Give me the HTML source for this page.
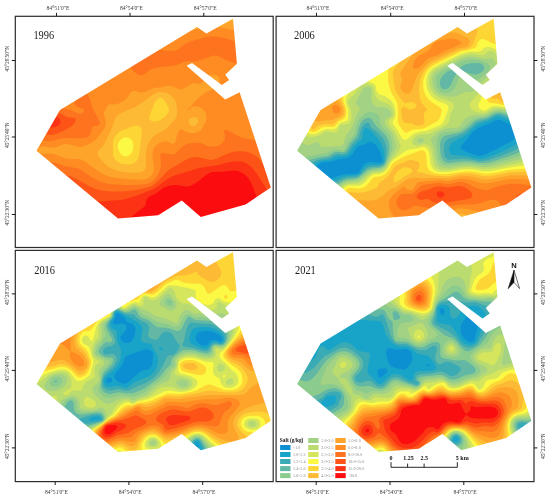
<!DOCTYPE html>
<html><head><meta charset="utf-8"><title>Soil salt maps</title>
<style>html,body{margin:0;padding:0;background:#fff}svg{display:block}text{font-family:"Liberation Serif",serif}</style></head>
<body><svg width="550" height="498" viewBox="0 0 550 498">
<rect width="550" height="498" fill="#fff"/>
<g>
<rect x="16" y="17" width="257" height="206" fill="#0c90d2"/>
<path fill="#18a4c8" fill-rule="evenodd" d="M16,17L273,17L273,223L16,223Z"/>
<path fill="#3aaab4" fill-rule="evenodd" d="M16,17L273,17L273,223L16,223Z"/>
<path fill="#62b8a4" fill-rule="evenodd" d="M16,17L273,17L273,223L16,223Z"/>
<path fill="#8ccb8e" fill-rule="evenodd" d="M16,17L273,17L273,223L16,223Z"/>
<path fill="#a4d284" fill-rule="evenodd" d="M16,17L273,17L273,223L16,223Z"/>
<path fill="#badb70" fill-rule="evenodd" d="M16,17L273,17L273,223L16,223Z"/>
<path fill="#d6e65c" fill-rule="evenodd" d="M16,17L273,17L273,223L16,223Z"/>
<path fill="#fcf945" fill-rule="evenodd" d="M16,17L273,17L273,223L16,223Z"/>
<path fill="#fdd535" fill-rule="evenodd" d="M16,17L273,17L273,223L16,223ZM126,137.2L125,137.3L123,138L120.4,140L119,141.8L118.4,143L117.6,146L117.9,148L119,151L120.8,154L123,155.8L125,156.5L126,156.6L128,156.1L129,155.6L131,153.7L132,152L132.7,150L133.3,146L133,143L131.7,140L130.8,139L129,137.8Z"/>
<path fill="#fdba34" fill-rule="evenodd" d="M16,17L273,17L273,223L16,223ZM140,126.6L138,125.8L136,125.7L134,125.9L131,126.8L126.2,129L122,130.3L120,131.3L117,133.8L115,136.5L113.7,139L112.9,142L112.8,144L113.2,148L113,154L113.6,157L114.7,159L116,160.6L118,162.2L120,163.2L123,164L126,164.3L130,164.3L132,163.9L134,163.2L135.7,162L137,160.5L138.2,158L139,155L141.5,137L141.7,133L141.6,130L141.1,128ZM162,98L161,97.6L160,97.5L159,97.9L158,98.6L155.8,101L154.1,104L150.2,114L149.4,117L149.4,119L149.9,120L151,120.8L153,121.4L155,121.4L158,121L160,120.3L162.2,119L165,116.7L167,114.4L168.4,112L169,110L168.8,108L164.9,101L163.3,99Z"/>
<path fill="#fea42a" fill-rule="evenodd" d="M16,37.1L39,34.8L47,33.5L55,31.9L68,28.4L93.4,20L103.9,17L153.6,17L166,19.8L170,20.4L174,20.6L182,20L201.3,17L214.8,17L221,18L232,20.5L245,22.2L253,23.8L258,25.2L263,27L268,29.1L273,31.7L273,223L16,223ZM171.4,96L168,93.6L166,92.7L164,92.2L160,92L158,92.3L156,92.9L152.4,95L144,101.5L137,106L131,109.1L121,113.1L119,114.2L117,115.9L116,117.1L115,118.9L112.4,127L104.2,144L102,147.3L98.4,151L97.7,152L97.4,153L97.8,155L99,157L101.3,160L104,163L107.5,166L111,168.2L115,169.9L120,171.3L128,172.4L136,172.8L141,172.2L143,171.4L144,170.7L145.3,169L146,166L145.9,155L146.6,149L147.7,145L149.7,141L152,138L154.2,136L157,134.1L164,130.2L168,127.1L174.4,120L175.7,118L176.5,116L177.1,113L177.1,110L176.9,107L176,103L175.4,101L174.2,99ZM193,117.2L191,118L189.6,119L188.9,120L188.6,121L188.9,123L190,124.7L191,125.5L193,126.1L195,125.7L196,125.1L197.6,123L198.3,121L197.9,119L197,117.8L195,117Z"/>
<path fill="#fe8c23" fill-rule="evenodd" d="M273,53.8L273,223L16,223L16,66.8L23,66.6L30,66.8L48,68.7L53,68.9L58,68.6L64,67.2L82,60.6L86,58.9L90,56.8L95,53.1L103.4,45L108,41L112.1,38L117,35.1L121.7,33L126,31.6L130,30.7L135,30.2L141,30.2L148,31.2L155,33.1L166,37L169,37.7L171,37.8L173,37.5L175,36.9L184,33.5L199,28.5L203,27.5L207,26.8L212,26.5L216,26.7L221,27.4L233.2,30L241,32L247,34L252,36.2L258.5,40L263.8,44L269,49ZM219.3,78L218,76.2L216,74.9L214,74.4L213,74.4L211,74.8L209,75.8L207,77.3L205,79.3L202,83L201,83.7L199,83.9L193,83.1L192,83.5L188.4,86L182.5,89L181,89.4L178.8,89L173,86.4L169,85.8L166,86.1L160,87.5L156,87.7L154,88.1L151,89.2L146,91.6L143,92.3L140,92.4L138,91.9L135,90.7L133,90.9L131.3,92L130.3,93L126.2,99L124,100.8L122.2,102L120,103.1L117,104.1L114,104.5L110,104.2L109,104.3L108,105.1L107,106.4L105,110.2L104,113L104,115.1L105.5,120L105.8,122L105.7,125L105.1,127L103,130.7L97.1,138L95,140.2L92,142.5L86,145.6L83,146.6L81,146.9L78,146.7L69,144.3L66,144L64,144.2L62,144.7L56,147.2L54,147.7L51,147.7L45,146.5L42,146.7L40.7,147L38.8,148L37.9,149L37.6,150L37.8,151L38.5,152L40,153L42,153.7L45,154L52,153.6L54,153.9L56,154.5L62,157.2L66,158.4L70,158.9L78,158.9L81,159.5L83,160.3L86,162.2L96.4,170L101,173L105,175.1L110,176.7L119,178.3L132,179.4L141,179.6L144,179.4L147,178.7L149,177.7L151,176L152.4,174L153.3,172L153.7,170L153.9,167L152.4,157L152.4,153L153,150.6L154,148.3L155,146.7L156.6,145L158,143.9L160,142.7L162,141.9L165,141.3L166,141.3L168,141.7L172,143.4L173,143.6L174,143.5L175,142.5L175.6,141L178,132.2L179,130.4L180,129.5L181,129.1L182,129.5L185,131.3L188,132.6L190,133.1L193,133.3L196,132.8L198.2,132L200,130.9L201.8,129L205.2,123L206.4,119L206.5,117L206.3,115L205.6,113L204.4,111L203,109.4L201,107.9L199,106.9L197,106.5L194,106.6L192,107.1L191,107.6L189.7,109L188,110.2L187.7,110L187.8,109L188.8,108L191,106.4L194.3,102L200.9,96L206,92L210,90.5L212.8,89L216.5,86L218.2,84L219.2,82L219.7,80Z"/>
<path fill="#fe731e" fill-rule="evenodd" d="M247,56L246.8,59L246,61L245.2,62L244,62.8L242,63.4L240,63.6L237,63.4L231,62L226,60.1L218.2,56L217,55.6L215,55.4L212,56L201,60L197,61.1L193,61.5L187,61.3L185,61.5L183,62.2L178,64.4L175,65.3L171,65.9L160,67.1L153,68.4L150,69.7L146,72.9L144,74.3L143,74.7L141,75L139,74.7L137,74L135,72.6L133,70.5L131.4,68L130.1,65L129.4,62L129.2,60L129.3,58L129.7,56L130.5,54L132,51.7L133.6,50L135,48.9L137,47.7L140,46.6L144,46L148,46.2L152,47L160,49.6L164,50.5L170,51.1L174,50.8L176,50.3L178,49.4L185,44.1L189,42L204,37.4L208,36.6L211,36.4L217,36.7L224.2,38L231,39.9L236,42L240.5,45L243.4,48L244.8,50L245.9,52L246.6,54ZM16,94.5L22,92.7L28,91.8L34,92L40,93.2L45,95L50,97.8L54,100.8L59.9,106L62,107.5L65,108.7L71,110.1L76,112.5L80,113.5L82,113.2L83,112.6L83.7,112L84.1,111L83.9,110L83,109L81,108.2L78,107.3L75.8,106L75.1,105L74.5,103L74.5,100L75.1,98L76,96.3L78,94.1L79,93.5L81,92.8L83,92.8L84,93L86,93.9L87,94.6L88.3,96L89.6,98L90.7,101L92.4,108L99,120.4L99.6,122L99.5,124L99,125L98,125.6L97,125.9L94,125.8L93,126.3L92,128.5L90.7,133L89.7,135L88,136.7L85,137.9L80,138.2L65,138L61,138.6L53,140.7L49,141.3L47,141.2L36,139.1L29,138.4L22,138.5L18.4,139L16,139.7ZM273,150.7L273,223L16,223L16,155.7L18,157.3L21,159.2L24,160.5L28,161.7L31,162.1L35,162.3L44,161.3L48,161.5L55,162.8L65,165.9L77,168.3L79,169L82,170.6L91,176.7L96,179.6L100,181.4L104.9,183L110,184L116,184.6L123,185L131,185.1L140,184.7L147,183.7L149.6,183L151,182.3L154,179.7L156.2,177L158.2,174L159.6,171L160.5,168L160.9,166L161.1,163L160.1,155L160.4,154L161,153.3L162,152.9L163,152.8L170,154.3L172,154.4L174,154.1L175,153.7L177,152.3L181,147.7L183,146.1L187,144.1L192,143.1L197,142.8L200.3,143L202,143.5L207,145.8L210,146.5L215,146.6L218,145.9L220,144.8L222,143.2L223.1,142L224.3,140L225,138L225.1,136L224.7,134L223.8,132L223.6,131L224,130.4L225,129.9L227,130L229,130.8L236,135L241,137.2L246,138.5L256,140.4L259,141.2L262,142.4L265,144L267.9,146Z"/>
<path fill="#fd5316" fill-rule="evenodd" d="M29.5,118L29.8,116L30.6,114L32,112L34,110.2L36.1,109L39,108L41,107.7L44,107.5L49,108.2L54,109.8L58,111.7L64,115.6L67,117L70,117.8L75,118.1L75.6,119L75.7,120L75,122.2L74,123.8L72.9,125L71,126.4L63.3,131L60,132.6L56,134.1L52,135L49,135.1L46,134.6L42,133.1L38.3,131L35.6,129L33.4,127L31.2,124L29.9,121ZM273,177.4L273,223L16,223L16,175L22,175.1L28,174.7L46,172L50,171.9L54,172.3L66,174.9L71,176.5L76.5,179L90,186.6L95,188.7L99,189.9L105,191L112,191.4L121,191.5L128,191L136,189.9L143,188.6L149,187.1L152,185.8L154.7,184L157,182L167,171.4L170,168.9L177.2,165L186,159.7L190,157.9L193,157.2L197,157.1L201,157.7L209,159.7L212,160L215.6,159L226,154.3L231,152.4L235,151.5L240,151.2L245,151.6L249,152.6L253,154.2L256,156.1L258,157.8L260,160.1L266.9,170Z"/>
<path fill="#fc3214" fill-rule="evenodd" d="M47,121L48.3,119L50,117.8L53,116.7L56,116.4L58,117.2L58.9,118L60.2,120L60.6,122L60.4,123L59.9,124L58,125.6L55,126.9L52,127.4L50,127L48.6,126L47.7,125L46.9,123ZM273,198.4L273,223L16,223L16,191.3L25,190.1L44,186.5L50,185.9L55,186L61,187L67,188.8L72,191L86,197.9L90,199.5L94,200.6L98,201.2L103,201.4L113,200.4L121,200L127,198.7L137,195.5L152,189.8L156,187.5L162,182.9L167,179.4L171,177.1L175,175.2L185,172.5L195,169.2L199.3,168L204.7,167L216,165.6L229,162.3L234,161.4L239,161.3L243,162.1L247,163.8L251,166.7L253.2,169L256.3,173L259.6,178L266,188.6Z"/>
<path fill="#fb0c0e" fill-rule="evenodd" d="M270.2,223L121.5,223L125,221.5L128,219.7L137,212.2L144,207.1L145,206L145.5,205L146,202L146.6,200L147.8,198L149,196.7L150,196L154,194.6L156,193.5L163,188L168,186.1L171,185.4L174,185.1L178,185.2L186,186.4L189,186.2L192,185.2L195,183.5L199,180.8L206.3,175L209.6,173L212,172L222,171.7L234,170.6L238,171L242,172.7L246,175.8L248,177.9L249.6,180L251.7,184L256,195.6L260.1,205L265,214.4ZM16,210.2L35,207.1L42,206.2L49,205.8L56,206.3L61,207.3L66,208.7L89,217.7L99,220.9L106.7,223L16,223Z"/>
<path fill="#fff" fill-rule="evenodd" d="M15.4,16.4H273.6V223.6H15.4ZM233,18.8L236.9,63.7L225.2,74.7L229.2,80L221.9,85.1L192,63L186.6,65.7L225.2,99.5L239.6,92.2L270.8,187.4L245.6,204.5L200.8,216.9L181.8,200.5L158.2,215.3L118,218.5L36.5,150.7L60,110L197,27L206.4,33.6Z"/>
</g>
<g>
<rect x="276.6" y="17" width="257" height="206" fill="#0c90d2"/>
<path fill="#18a4c8" fill-rule="evenodd" d="M276.6,17L533.6,17L533.6,223L276.6,223ZM381.6,155.2L378.6,149.1L375.6,145L372.6,142.5L370.6,141.7L369.6,141.8L363.6,144.8L361.6,145.5L359.6,145.6L358.4,146L356.7,148L352.7,154L350.6,155.9L348.6,157.1L345.6,158.1L338.6,158.9L333.6,160.9L330.6,161.7L322.6,162.2L320.6,163L319.1,164L316.8,166L314.5,169L313.5,171L312.8,173L312.9,176L313.7,178L314.6,179L316.1,180L318.6,180.8L322.6,181L325.6,180.6L328.6,179.8L339.6,175.6L343.6,174.4L347.6,173.9L354.6,173.9L357.6,173.3L358.6,172.8L359.2,172L361.6,167.7L363.6,165L364.6,164L366.6,162.8L368.6,162.2L370.6,162.1L378.6,162.8L380.6,162.4L381.4,162L382,161L382.3,159ZM516.6,131L515.8,129L514.6,127.5L512.9,126L510.6,124.6L503.6,121.2L500.6,120L498.6,119.7L496.6,120L489.6,123.4L480.3,127L477.6,128.5L474,131L472.6,132.3L466.6,139.6L461.6,145L461,146L460.8,147L460.9,148L461.6,149L462.8,150L464.5,151L469.3,153L475.5,155L478.6,155.7L480.6,155.8L482.6,155.3L486.1,154L496.9,149L502.6,145.7L509.8,142L512.6,140.2L514.9,138L516.2,136L516.8,134Z"/>
<path fill="#3aaab4" fill-rule="evenodd" d="M276.6,17L533.6,17L533.6,223L276.6,223ZM381.4,144L378.6,139.6L372,132L369.9,130L367.6,128.2L366.6,127.9L365.6,128L364.3,129L363.2,131L362.8,133L362.3,138L362,139L361.1,140L356.6,143.3L354.9,145L352.6,148.1L350.2,152L348.5,154L347.1,155L345.6,155.7L343.6,156.1L337.6,156.3L335.6,157L330.6,159.3L328.6,159.8L321.6,160.7L318.6,161.8L316.3,163L313.5,165L311.1,167L309.2,169L306.9,172L305.3,175L304.8,177L304.7,179L305.2,181L306.5,183L307.6,184L309.4,185L311.6,185.7L313.6,186L316.6,186.1L321.6,185.5L328.6,183.3L340.6,177.9L343.6,176.8L347.6,176L354.6,175.6L357.6,174.9L359.3,174L360.3,173L362.6,169.9L364.6,167.7L366.6,166.2L368.6,165.3L371.6,164.8L378.6,164.8L381.6,164.1L382.6,163.5L383.7,162L384.2,160L384.4,157L384.3,154L383.6,150.1L382.6,146.8ZM522.1,131L520.7,128L519.1,126L516.8,124L514.6,122.6L509,120L501.6,117.1L498.6,116.4L496.6,116.6L488.6,120.8L478.6,124.1L476.6,125.4L471.6,129.4L467.6,133.4L464.6,135.8L462.6,136.9L459.5,138L452.9,142L450.9,144L449.6,146.4L449.1,149L449.5,152L450,153L450.9,154L452.6,154.9L453.6,155.1L464.6,155.8L479.6,158.9L482.6,158.6L485.4,158L491.4,156L499.6,152.8L511.7,147L516.6,144L519.7,141L521.6,138L522.4,135L522.4,133Z"/>
<path fill="#62b8a4" fill-rule="evenodd" d="M276.6,17L533.6,17L533.6,223L276.6,223ZM384.5,141L382.6,137.9L379.1,134L375.6,130.8L370.6,127.2L370.1,126L369.8,124L369.1,123L367.6,122.7L365.6,123.3L363.6,124.7L361.6,127.4L360.6,130L359.2,136L358.2,138L352.6,144L350.6,146.8L348.2,151L346.6,152.8L345.6,153.4L343.6,154.1L341.6,154.2L337.6,153.8L336.6,153.9L334.6,154.7L330.6,157L328.6,157.8L319.6,159.4L316.6,160.3L312.8,162L309.2,164L298.3,171L294.4,174L291.3,177L289.1,180L288.2,182L287.9,184L287.9,185L288.7,187L290.4,189L292.6,190.5L295.6,191.7L298.6,192.4L302.6,192.9L306.6,192.9L310.6,192.5L314.6,191.7L319.6,190.3L324.6,188.3L343.6,178.9L347.6,177.8L354.6,177.2L357.6,176.4L359.6,175.2L361.1,174L365.6,169.5L368.6,167.6L371.6,166.8L378.6,166.4L381.6,165.6L383.6,164.3L384.6,162.8L385.6,160L386.4,155L386.7,151L386.5,148L385.6,144ZM526.9,130L525.4,127L523.8,125L521.5,123L518.4,121L513.6,118.9L502.1,115L498.6,114.3L496.6,114.5L494.6,115.3L487.6,119L477.4,122L475.6,123.1L471.4,127L465.6,131.7L463.6,133.1L460.6,134.5L450.6,138L448.5,139L447,140L445.4,142L444.5,144L444.1,146L443.9,151L444.5,155L445.3,157L446.6,158.6L447.6,159.3L449.6,159.7L452.6,159.6L460.6,158.9L464.6,158.8L469.6,159.3L478.6,161L481.6,161.1L485.6,160.6L491.8,159L500.7,156L513.1,151L517.6,148.7L521.6,146L523.6,144L525.2,142L526.4,140L527.2,138L527.6,136L527.7,134L527.5,132Z"/>
<path fill="#8ccb8e" fill-rule="evenodd" d="M276.6,17L533.6,17L533.6,223L276.6,223L276.6,213.6L280.6,211.3L289.9,207L307.6,200.2L316.6,196.3L324.6,192.1L343.6,180.7L347.6,179.5L354.6,178.7L357.6,177.9L359.6,176.8L361.6,175.3L366.6,170.9L369.6,169.2L372.6,168.4L379.6,167.7L382.6,166.5L384.6,164.8L385.7,163L386.5,161L388.9,153L389.4,148L389.3,145L388.6,141.7L387.6,138.8L386,136L384.4,134L376.2,126L371.3,119L370.6,118.4L369.6,117.9L367.6,117.8L365.6,118.4L363.6,119.6L362.2,121L360.6,123L358.8,127L357.2,134L356.3,136L350.6,142.7L346.5,150L345.6,151.1L344.6,151.8L342.6,152.3L337.6,151.7L335.6,151.9L333.6,152.6L329.6,155L327.6,155.9L317.6,157.6L312.6,159L304.6,161.7L298.6,163.1L293.6,163.6L288.6,163.7L276.6,162.9ZM483.8,66L483.1,65L481.7,64L479.6,63.2L475.6,62.9L470.6,63.2L466.7,64L463.9,65L458.6,68.7L452.6,69.6L448.6,71.1L446.6,72.2L444.3,74L442.5,76L441.2,78L440.3,80L440,82L440.1,85L440.6,86.6L441.6,88.1L442.6,88.8L443.6,89.2L444.6,89.3L446.5,89L448.6,87.8L449.6,86.8L450.8,85L453.9,78L455.6,75.1L457.6,72.6L459.6,71.3L461.6,71.2L463.6,71.5L472.6,74.4L474.6,74.6L476.6,74.4L479.6,73.3L481.6,72.1L482.9,71L484.1,69L484.2,67ZM532.3,130L531,127L528.7,124L525.2,121L521.6,119L515.6,116.7L501.6,113L498.6,112.6L495.6,113L486.6,117.4L483.6,118.3L478.6,119.3L475.6,120.4L473.4,122L469.6,125.8L463.6,130.3L460.6,132L455.6,133.5L446.6,135.2L444.6,135.9L443.6,136.5L442.6,137.4L441.5,139L440.7,141L440.2,143L440,146L440.2,150L440.6,154L441.3,157L442.1,159L443.6,161.1L445.6,162.3L448.6,162.9L451.6,162.8L460.6,161.5L464.6,161.3L469.6,161.5L479.6,163L483.6,163.1L488.6,162.4L495.6,160.6L509.7,156L516.6,153.5L521.7,151L526,148L528.1,146L529.8,144L531.1,142L532.3,139L532.8,137L533,134Z"/>
<path fill="#a4d284" fill-rule="evenodd" d="M276.6,17L533.6,17L533.6,122.4L530.9,120L527.7,118L524.6,116.6L520.6,115.2L515.3,114L501.6,111.4L498.6,111.1L495.6,111.4L493.6,112.1L488.6,114.8L485.6,116L482.6,116.7L476.6,117.6L473.6,118.7L471.5,120L467.2,124L462.5,128L460.6,129.3L458.6,130.3L455.6,131L446.6,131.7L443.6,132.3L441.8,133L439.4,135L437.8,137L436.8,139L436.2,142L436.4,145L437.9,156L438.6,159L439.5,161L440.9,163L442.6,164.3L444.6,165L447.6,165.5L450.6,165.3L459.6,163.9L464.6,163.4L470.6,163.6L478.6,164.8L482.6,165.1L486.6,164.9L491.6,164.1L513.7,158L520.6,155.7L524.3,154L527.8,152L530.6,149.9L533.6,147L533.6,223L288.6,223L294.3,218L300.7,213L321.6,198.4L336.9,187L343.6,182.5L345.6,181.6L347.6,181L354.6,180.3L357.6,179.6L360.6,178L366.6,172.9L369.6,170.9L372.6,169.9L379.6,169.1L381.6,168.5L383.6,167.3L385,166L386.3,164L390.8,154L392.3,149L392.5,145L391.6,140L390.6,137L389.6,134.8L388.4,133L383.3,128L381.8,126L380.7,124L380,122L379.3,117L378.9,116L377.6,114.7L374.6,113L371.6,112L369.6,111.9L367.6,112.3L364.6,113.8L361.6,116.2L359.2,119L357.6,121.9L356.4,125L354.3,134L353.6,135.1L349.2,140L347.6,142.6L344.6,148.9L343.6,149.9L342.6,150.2L337.6,149.5L334.6,149.6L332.6,150.2L327.6,152.6L325.6,153.2L306.6,156.7L303.6,156.9L301.6,156.7L298.6,155.8L287.6,150.1L282.6,148.2L276.6,146.4ZM489.3,65L488.5,64L487.6,63.4L484.8,62L480.6,60.6L476.6,59.8L471.6,59.4L468.6,59.5L465.6,60L462.6,61L445.6,69L440.7,72L438.3,74L436.7,76L435.8,79L435.8,83L436.7,87L438.6,90L440.6,91.6L442.6,92.5L444.6,93L446.6,93L448.6,92.8L450.6,92.1L452.6,90.9L454.4,89L455.5,87L457.6,80.3L458.5,79L459.6,78.1L461.6,77.4L463.6,77.6L465.6,78.3L470.6,80.7L472.6,81.1L474.6,81L476.6,80.2L481.6,77L485.6,73.9L487.6,72L489,70L489.7,68L489.7,66Z"/>
<path fill="#badb70" fill-rule="evenodd" d="M276.6,17L533.6,17L533.6,116.4L528.3,114L521.6,112.3L499.6,109.6L495.6,109.8L492.6,110.8L487.6,113.5L484.6,114.5L481.6,114.9L473.6,115.3L470.6,116L468.1,117L465.6,118.5L463.9,120L460.4,125L458.6,127L457.6,127.6L456.6,127.8L451.6,127.7L448.6,128.1L444.6,129.1L440.6,130.7L436.9,133L433.4,136L431.6,138L431,139L430.9,140L431,141L433.7,148L434.5,152L435.7,159L436.9,163L438.2,165L439.6,166.2L441.6,167.1L444.6,167.7L449.6,167.7L460.6,165.9L466.6,165.4L471.6,165.6L482.6,167L486.6,167L490.6,166.5L496.6,165.3L521.6,159L527.6,156.7L530.7,155L533.6,153.2L533.6,223L302.9,223L310.2,215L319.3,206L335.4,191L340,187L343.6,184.3L345.6,183.2L347.6,182.5L349.6,182.2L355.6,181.8L358.6,181.1L361.6,179.4L367.7,174L370.6,172.2L373.6,171.3L378.6,170.7L380.6,170.3L382.6,169.5L384.6,168L386.6,165.6L389.6,159.9L394.3,152L395.8,148L396,146L395.9,144L394.6,139L392.6,133.8L390.7,131L387.7,128L386.1,126L385.1,124L384.9,123L385,121L386.1,119L387.2,118L390.6,116L391.3,115L391.4,114L391,112L389.6,110L387.6,108.5L384.6,107.5L378.6,106.9L376.6,106.4L374.6,105.4L373.1,104L371.9,102L371.4,100L371.3,97L371.7,91L371.5,89L370.6,87.5L369.6,87L368.6,86.9L366.8,87L365.6,87.4L364.3,88L362.6,89.5L361.5,91L358.6,97.3L356.4,101L356,102L355.8,103L356.2,104L359.6,108L359.9,109L359.8,110L356.6,114.6L352.6,125.4L350.6,129.3L346.6,134.8L345.2,138L343.5,143L342.6,144.7L341.6,145.7L340.6,146.1L333.6,146.2L322.6,146.9L321.6,146.7L320.4,146L318.9,143L317.6,142.3L316.6,142.2L314.6,142.7L310.6,144.6L308.6,145L306.6,144.9L304.6,144.1L298.9,141L294.6,139.1L276.6,133.4ZM423.7,139L422.6,138.3L421.6,138L419.6,138.2L418.6,138.6L417.2,140L417,141L417.2,142L418.6,143.1L419.6,143.3L421.1,143L422.6,142L423.6,141L424,140ZM494.8,61L493.6,59.4L492.6,58.6L491.6,58.1L489.6,58.1L486.6,58.9L484.6,58.9L477.6,57.4L471.6,56.5L469.6,56.5L466.6,56.8L461.6,58.4L442.1,68L437,71L434.5,73L433.6,74.2L432.8,76L432.2,80L432.5,84L433.7,88L435.6,91.2L437.3,93L438.7,94L440.6,95L442.6,95.8L447.6,96.6L451.6,96.7L455.6,96.2L458.6,95.2L462.6,93L464.6,92.3L470.6,91.8L473.6,91.1L475.6,89.7L479.2,85L482.9,81L490.9,74L493.5,71L495.1,68L495.6,66L495.5,63Z"/>
<path fill="#d6e65c" fill-rule="evenodd" d="M276.6,17L533.6,17L533.6,111.2L528.6,109.9L523.6,109.3L507.6,108.9L499.6,108.1L496.6,108L494.6,108.2L492.6,108.8L485.6,112.5L482.6,112.9L480.6,112.8L477,112L474.2,111L471.6,109.5L470.2,108L469.6,106L469.8,104L470.8,102L472.5,100L477.6,94.8L482.7,87L485.1,84L488.1,81L495.2,75L497.9,72L499.2,70L500.5,67L501.1,64L501,62L500.6,60L499.8,58L497.6,55.1L495.6,53.3L493.6,52L490.9,51L489.6,51L488.6,51.3L487.4,52L484.6,54.5L482.8,55L479.6,55L472.6,54L470.6,53.9L464.6,54.9L462.6,55.5L459.2,57L443,65L435.6,69L432.9,71L431.6,72.4L430.6,74.2L429.7,77L429.2,81L429.4,84L429.7,86L431.2,90L432.3,92L433.6,93.7L435.6,95.6L438.6,97.5L441.6,98.7L448.6,100.8L451.2,102L452.6,103.1L453.8,105L453.9,106L453.6,108L450.3,114L449.7,116L449.2,121L448.2,123L446.1,125L442.8,127L429.6,133.4L426.6,134.1L419.6,134.8L416.6,135.8L415,137L413.3,139L412.4,141L412.3,142L412.5,143L413.1,144L414.5,145L415.6,145.4L418.6,145.6L422.6,144.4L424.6,144.2L426.6,144.5L428.6,145.7L430.3,148L431.5,151L433.4,162L434.6,165.5L435.6,167L437.6,168.7L439.6,169.4L441.6,169.8L444.6,170L448.6,169.9L461.6,167.8L467.6,167.3L472.6,167.5L482.6,169.1L486.6,169.1L490.6,168.8L495.6,167.9L508.6,164.9L521.6,162.5L527.6,160.7L533.6,158.2L533.6,223L313.2,223L319.4,214L328.1,203L337.7,192L341.7,188L344,186L346.6,184.4L348.6,183.9L356.6,183.6L359.6,182.8L362.8,181L368.6,175.5L370.6,174L373.6,172.8L378.6,172.3L380.6,171.9L382.6,171.1L384.6,169.8L387.1,167L389.2,163L390.6,160.8L397.2,153L399.3,150L400.6,147L400.5,145L399.9,143L395.4,133L393.5,130L389.3,125L388.4,123L388.5,121L389.1,120L392.6,117.1L393.5,115L393.5,112L392.9,110L392,108L390.6,106.1L388.6,104.4L386.6,103.4L380.6,101.2L377.6,99.2L375.9,97L375,95L374.4,93L373.8,89L373.1,87L371.6,85.5L369.6,84.8L367.6,84.3L365.6,84.2L363.6,84.4L361.6,85.1L360.2,86L358.3,88L354.6,94L353.6,95.1L350.1,98L348.6,99.9L348,102L348.1,103L350.5,108L351.3,111L351.3,118L350.7,121L349.6,122.9L348.6,123.7L347.6,124.1L345.6,124.4L342.6,124.4L340.6,124.9L339.7,126L338.6,129.1L337.6,130.9L336.6,132L335.6,132.6L333.6,132.8L328.6,131.5L326.6,131.5L325.2,132L320.6,134.7L318.6,135.5L312.6,136.9L309.6,137L307.6,136.5L300.6,132.8L285.6,126.8L276.6,122.8Z"/>
<path fill="#fcf945" fill-rule="evenodd" d="M276.6,17L365.2,17L371.6,22.6L375.6,25.6L379.6,27.6L381.6,28.1L383.6,28.3L385.6,28.2L387.6,27.7L391.6,26L396.6,23L405.3,17L533.6,17L533.6,106.1L529.6,105.6L524.6,105.6L506.6,107L503.6,106.9L497.6,106.1L494.6,106.1L492.6,106.4L490.6,107.1L488.6,108.2L486.1,110L484.6,110.6L483.6,110.6L481.5,110L480,109L479.1,108L478.4,106L478.7,104L480.6,100L483.3,93L484.9,90L486.6,87.6L489,85L498.8,77L502.6,73.1L505.2,69L506,67L506.7,64L506.7,62L506.5,60L505.6,57.2L503.6,54.1L501.6,52.2L498,50L491.6,47.6L488.6,46.9L486.6,46.9L484.6,47.5L480.8,51L479.6,51.6L477.6,51.8L473.6,51.5L470.6,51.6L463.6,53L460.6,54.1L440.4,64L434.7,67L432.6,68.4L430.8,70L428.6,73L427.6,75L426.7,78L426.2,83L426.9,88L428,91L429,93L431.6,96.5L434.5,99L438.6,101.2L445.6,104.1L447.6,105.6L448.4,107L448.3,109L443.9,121L441.7,124L439.6,125.5L426.6,130.8L418.6,132.1L415.6,132.9L412.6,134.6L407.6,139.1L405.6,139.9L404.6,139.8L403.6,139.4L402.6,138.7L401.3,137L397.9,131L393.8,125L392.8,123L392.7,122L393,121L394.6,118.5L395.3,117L395.7,114L395.5,111L394.9,108L393.9,105L392.6,102.5L390.6,100.1L386.6,97.2L384.6,96.1L379.6,94.4L377.6,92.8L376.5,91L375.7,86L375.3,85L374.4,84L372.6,83L369.6,82.1L366.6,80.8L364.6,80.4L362.6,80.3L360.6,80.6L358.6,81.4L355.6,83.8L353.9,86L350.9,91L347.6,94.8L346.4,97L345.6,99.8L345.6,102L346.1,104L347.8,108L348.4,111L348,118L347.5,120L346.1,121L341.6,122.2L339.6,123.2L338.6,124.2L336.6,127.6L335.6,128.6L334.6,129.1L332.6,129.5L327.6,129L325.6,129.2L323.1,130L317.8,133L315.6,133.9L312.6,134.3L310.6,134L308.7,133L306.6,130.9L304.6,129.4L288.2,120L281.9,116L276.6,112.2ZM321.6,223L326.8,213L333,203L340.1,193L343.4,189L345.5,187L347.1,186L348.6,185.6L356.6,185.8L358.6,185.6L360.6,185.1L362.6,184.2L364.6,182.7L369.8,177L372.4,175L373.6,174.6L380.6,173.8L383.6,172.5L385.6,171L387.4,169L390.6,163L393.6,159.8L403.6,152.2L406.6,150.5L409.6,149.5L416.6,148.4L422.6,146.9L424.6,147.2L426.1,148L427.9,150L429.1,153L430.4,163L430.9,165L431.7,167L433.1,169L434.6,170.3L436.6,171.3L439.6,171.9L443.6,172.1L447.6,172L461.6,169.7L468.6,169.2L472.6,169.4L482.6,171.2L485.6,171.3L489.6,171.2L495.6,170.3L508.6,167.4L522.6,165.7L528.6,164.3L533.6,162.7L533.6,223Z"/>
<path fill="#fdd535" fill-rule="evenodd" d="M284.6,17L323.4,17L326.6,18.4L331.6,21.1L336.6,24.3L341.6,28.2L346.6,32.8L351.3,38L355.1,43L358.3,48L360.9,53L362.9,58L364,62L364.3,65L364.1,67L363.8,68L363.1,69L362,70L356.6,73.3L353.6,75.8L350.6,79.3L347.6,84.4L344.2,92L343.3,95L343.1,97L343.1,99L343.7,102L345.9,108L346.3,110L346.3,113L345.6,116.5L344.9,118L343.8,119L339.6,121.1L338.4,122L337.5,123L335.6,125.8L334.6,126.6L332.6,127L326.6,126.7L323.6,127.1L320.6,128.3L316.6,131L314.6,131.9L312.6,132.1L311.6,131.9L310.2,131L307.6,127.7L305.6,125.8L293.8,116L287.1,110L281.3,104L276.6,98.4L276.6,22.1L280.6,19.2ZM388.8,66L389.4,64L390.7,61L397,50L401,44L405.9,38L412.6,31.5L420.6,25L427.6,20.4L434.7,17L533.6,17L533.6,100.2L529.6,100.4L525.6,100.9L510.6,104.2L504.6,105L502.6,104.9L496.6,103.5L490.6,103.1L489.6,102.8L488.4,102L487.1,100L486.4,97L486.6,95L487.8,92L489.6,89.5L491.6,87.5L503.6,78.8L506.7,76L509.4,73L511.3,70L512.6,67L513.3,64L513.5,60L512.6,56L511.2,53L508.8,50L506.3,48L503.6,46.5L501.6,45.8L494.8,44L490.6,42.5L484.6,39.4L482.6,38.9L481.6,39L479.7,40L478.7,41L477.7,43L476.7,46L476,47L474.6,48L468.6,50.1L461.6,51.6L456.6,53.8L434.6,64.7L431.1,67L428,70L426.6,72L425,75L423.4,80L423,85L423.3,88L424,91L425,94L426,96L428.6,99.5L432.6,102.8L439.4,107L440.5,108L441.2,109L441.6,110L441.5,112L440.5,116L439.1,119L437.4,121L425.6,127.8L421.6,128.9L412.6,129.6L410.6,130.4L407.6,132.5L406.6,132.7L405.6,132.6L404.6,132.1L403.6,131.2L401.6,128.8L399,125L398,123L397.7,121L398,114L397.4,105L397,103L395.6,99.5L392.1,94L391.1,92L389.3,87L388.5,84L388.2,81L388.1,76L388.3,69ZM329.4,223L333,213L337.6,203L342.8,194L344.9,191L346.8,189L348.5,188L349.6,187.8L355.6,188.5L358.6,188.7L361.6,188.1L363.6,187.4L367,185L368.6,183.2L371.8,179L373.6,177.5L375.3,177L380.6,176.3L383.6,175.1L385.6,173.7L388.8,170L392.1,164L395.6,161.1L406.6,155.5L420.6,150.5L422.6,150.3L423.6,150.6L424.6,151.4L425.7,153L426.3,156L427,165L427.4,167L428.3,169L430.2,171L431.8,172L434.6,173.2L437.6,173.8L443.6,174.2L447.6,174.1L460.6,171.9L469.6,171.3L472.6,171.5L482.6,173.5L485.6,173.7L489.6,173.6L495.6,172.7L508.6,170L522.6,169L528.6,168L533.6,166.9L533.6,223Z"/>
<path fill="#fdba34" fill-rule="evenodd" d="M533.6,17L533.6,92.1L529.6,92.9L525.6,94.1L509.8,101L506.9,102L503.6,102.5L501.8,102L500.4,101L498.6,99.2L497.6,98.8L494.6,98.9L492.6,98.4L491.6,97.7L491.2,97L490.9,96L491.6,94L492.4,93L496.3,90L510.6,81.1L514.8,78L516.9,76L519.3,73L521,70L522.4,66L523,62L523,57L522.2,53L520.7,49L519.2,46L516.6,42.3L513.6,39.1L508.1,34L506.8,32L506.5,31L506.6,29L507.1,27L511.3,17ZM475,26L476.1,27L477.2,29L477.3,30L477.2,32L476.7,34L475,38L473.4,43L472.3,45L471.5,46L470.3,47L467.6,48.5L465.6,49.1L460.6,50.1L456.6,51.6L447.6,55.7L432.6,63.3L429.6,65.4L426.9,68L424.4,71L421.9,75L420.3,79L419.3,84L419.1,90L419.7,96L420.6,100.6L421.6,103L426.1,108L427.4,110L425.6,111.2L424.6,112.3L423.9,114L423.7,116L424.7,121L424.4,123L423.8,124L422.6,125L421.6,125.3L417.6,125.5L415.6,125.2L412.6,123.5L410.6,123.2L406.6,123.2L404.6,122.4L403.2,121L402.6,120L402,118L400.9,111L400.9,110L401.6,108.5L402.6,107.6L403.6,107L404.6,106.8L408.6,109.2L410.6,109.7L411.6,109.6L413.3,109L414.9,108L415.8,107L416.3,106L416.4,105L415.9,104L414.5,103L412.6,102.1L411.6,101.9L409.6,101.9L405.6,102.9L404.6,102.9L403.6,102.3L400.6,98.6L396.7,93L395.3,90L394.6,87L393.9,81L393,76L392.8,73L393.2,71L394.2,69L398.6,64L408.6,49.1L410.6,46.6L413.6,43.7L426.3,33L430.6,30.1L435.6,27.8L440.6,26.3L447.6,24.7L451.6,24.1L455.6,23.8L465.6,23.8L469.6,24.1L472.6,24.8ZM306.6,39.8L312.6,39.9L318.6,41.2L324.6,43.7L329.6,46.8L332.4,49L334.6,51.2L336.6,53.5L338.3,56L339.6,58.3L340.7,61L341.7,66L341.7,71L339.5,85L339.1,92L339.4,95L340.1,98L341.1,101L343.6,106.5L344.4,109L344.7,112L344.1,115L343.6,116L342.6,117.1L337.6,120.2L333.6,124L331.6,124.3L325.6,124.1L320.2,125L317.6,126.1L314.6,128.7L313.6,129.2L312.6,129.2L311.6,128.2L308.6,123.6L298.7,112L293.6,105L289.8,99L286.2,92L283.8,86L281.9,79L281.1,73L281.2,66L282.4,60L284.3,55L285.6,52.6L287.4,50L291.2,46L295.6,43L300.6,40.9L303.6,40.2ZM337.6,223L338.9,215L341.6,205.9L343.5,201L345.5,197L346.8,195L348.6,193L349.6,192.5L351.6,192.2L357.6,192.9L362.6,192.6L366.6,191.6L376.6,187.9L377.7,187L378.7,184L379.4,183L380.5,182L385.6,178.6L388.4,176L393.7,168L395.4,166L398.6,164L403.6,162.7L406.7,161L408.6,160.3L410.6,159.9L412.6,160.1L415.6,161.3L417.6,161.5L418.6,162L419.5,164L419.6,166L418.9,168L417,171L417.7,172L421.6,172.6L430.9,175L436.6,175.8L444.6,176.3L447.6,176.3L450.6,175.9L459.6,174.1L467.6,173.6L472.6,173.9L482.6,176.1L488.6,176.3L494.6,175.5L509.6,172.5L523.6,172.1L533.6,171.1L533.6,223ZM412.3,170L411.2,169L409.6,168.1L406.6,167.2L403.6,167.3L401.6,168.2L399.6,169.5L397.6,171.4L396.2,173L394.9,175L393.8,178L393.7,180L393.9,181L394.6,181.9L395.6,182L400.6,179.4L404.6,176.5L409.7,174L412.2,172L412.7,171Z"/>
<path fill="#fea42a" fill-rule="evenodd" d="M467.9,38L468.6,38.9L469.1,40L469.3,41L469.2,43L468.3,45L466.6,46.7L464.6,47.4L461.6,47.8L458.6,48.5L448.6,52.7L438.6,57.8L431.6,61L429.6,62.2L427.6,63.8L420.8,71L417.2,76L414.9,81L412.5,89L411.6,90.8L410.6,92.1L408.6,93.3L406.6,93.5L404.6,93L402.2,91L400.9,89L400.4,87L400.6,84.7L402.1,81L402.3,80L400.4,75L400.4,73L401.2,71L410.3,58L412.6,54.3L414.4,52L417.6,49.3L425,45L426.6,43.4L429.4,40L431.6,37.9L434.6,36L437.6,34.8L445.6,33.6L450.6,32.5L452.6,32.4L455.6,32.6L457.6,33.2L459.6,34.1L462.8,36L466.6,37.2ZM306.6,71.8L308.6,70.6L310.6,69.9L312.6,69.6L315.6,69.8L317.6,70.4L319.6,71.3L321.6,72.8L323.6,74.8L325.6,77.5L327,80L331.2,90L333.1,94L335.7,98L340.6,104.5L342,107L342.6,109L342.8,112L342.4,114L341.6,115.1L339.6,116.4L332.6,119.8L330.6,120.2L325.6,120.3L319.6,121.5L315.6,121.2L313.6,120.6L312.6,120L310.7,118L308.7,115L307,112L303.7,104L301.6,97L300.4,90L300.5,84L301.6,79L303.6,75L305.2,73ZM533.6,175.4L533.6,223L481.7,223L477.1,220L471.3,217L464.6,214.3L460.6,213.6L458.6,213.8L456.6,214.5L444.6,219.9L439.6,221.7L435.1,223L348.5,223L347.9,217L348,213L348.5,210L349.2,207L350,205L351.2,203L352.6,201.7L354.6,200.8L356.6,200.4L371.6,200.4L374.6,200.1L377.6,199.2L379.6,198.1L381.6,196.7L388.6,190.5L390.6,189.3L396.6,186.7L403.6,181.6L408,179L410.6,178.1L413.6,177.8L421.6,178.2L428.6,177.9L438.6,178L447.6,178.6L450.6,178.2L458.6,176.4L465.6,176.1L471.6,176.6L481.6,179L486.6,179.4L493.6,178.6L509.6,175.4L512.6,175.2L525.6,175.6ZM410.6,185.6L410.1,186L410.6,186.1Z"/>
<path fill="#fe8c23" fill-rule="evenodd" d="M461.4,43L460.5,44L454.8,47L445.6,50.7L437.6,55.3L435.6,56.1L430.6,57.3L428.6,58.2L426.6,59.7L421.6,65.4L419.6,66.9L417.6,68.1L415.6,68.8L414.6,68.9L413.6,68.6L413.1,68L412.8,66L413.5,63L414.9,60L416.6,57.6L419.6,55.2L425.6,52.6L427.6,51.3L429.6,49.3L433.6,43.8L435.6,42L437.2,41L440.6,39.9L445.6,39.4L450.6,38.5L453.6,38.4L455.6,38.9L458.1,40L460.9,42ZM333.6,105L334.6,104.8L336.6,105.1L338.6,106.3L339.6,107.3L340.2,109L340,111L339.6,112.2L338.6,113.1L337.6,113.5L335.6,113.7L333.8,113L333,112L332.2,109L332.2,107L332.6,105.9ZM388.9,203L389.3,201L390.1,199L391.3,197L392.9,195L396.2,192L403.6,186.7L404.6,186.8L406.5,189L407.6,189.7L409.6,190.2L411.6,190L413.2,189L414.2,188L416.3,184L417.3,183L418.6,182.3L420.6,181.7L438.6,180.3L440.6,180.3L445.6,181.1L447.6,181.2L450.6,180.8L457.6,179.1L462.6,178.8L465.9,179L469.6,179.6L479.6,182.7L482.6,183.2L485.6,183.3L490.6,182.8L505.6,179.6L510.6,178.9L516.6,179L533.6,180.1L533.6,223L498.1,223L495.6,220L492.6,217.2L489.6,215.2L487.1,214L484.2,213L479.6,211.8L466.3,209L461.6,208.3L459.6,208.4L456.6,209L445.6,213.1L438.6,214.9L431.6,215.6L418.6,215.7L415.6,216.2L406.6,218.9L403.6,219.3L400.6,219.2L397.6,218.4L395.6,217.5L393.7,216L392.6,214.8L390.9,212L389.2,208L388.8,206Z"/>
<path fill="#fe731e" fill-rule="evenodd" d="M396.4,201L397,199L398.2,197L399.6,195.6L401.6,194.3L403.6,193.7L409.6,194.1L411.6,193.7L414.6,192L419.6,186.9L421.6,185.5L423.6,184.8L435.6,183.3L439.6,183L447.6,184.1L450.6,183.7L457.6,182.2L459.6,182L462.6,182.1L465.6,182.7L467.6,183.4L469.6,184.4L472.6,186.5L475.6,187.7L481.6,189.6L485.6,190.2L487.6,190.1L489.6,189.6L495.5,187L498.6,186L508.6,184.1L512.6,183.8L516.6,183.8L521.6,184L533.6,186.1L533.6,223L512.7,223L499.6,203.1L497.6,200.8L495.6,200L492.6,199.7L489.6,200.1L480.4,203L474.6,204.2L470.6,204.4L461.6,204.4L457.6,204.8L453.6,205.6L444.6,208.2L439.6,209L435.6,209L430.6,208.5L423.6,207.3L415.6,205.6L413.6,206.2L408.6,209.1L406.6,209.8L404.6,210.1L401.6,209.7L400.2,209L398.6,207.8L397.6,206.5L396.8,205L396.4,203Z"/>
<path fill="#fd5316" fill-rule="evenodd" d="M472.4,195L472.3,196L471.6,197.1L470.5,198L468,199L455.6,200.9L444.6,203.2L441.6,203.6L438.6,203.5L434.6,202.5L431.3,201L427.6,198.7L426.6,198.8L422.6,200.1L419.6,199.8L417.6,198.8L417,198L416.8,197L416.9,196L418,194L418.9,193L420.6,191.8L422.6,190.9L426.6,190.2L434.6,187.1L438.6,186.4L440.6,186.5L447.6,187.5L457.6,186L460.6,186.1L462.6,186.5L466.2,188L470.1,191L471.9,193ZM517.6,195L520.6,194.1L523.6,194.2L527.6,194.9L533.6,196.5L533.6,223L531.4,223L522.6,211L518.6,205L516.6,201.1L516,199L516,197L516.5,196Z"/>
<path fill="#fc3214" fill-rule="evenodd" d="M436.8,193L437.7,192L438.6,191.5L439.6,191.3L441.6,191.5L442.8,192L443.9,193L444.4,194L444.5,195L444,196L442.8,197L441.6,197.4L439.6,197.4L438.4,197L437.2,196L436.6,194.8L436.5,194Z"/>
<path fill="#fff" fill-rule="evenodd" d="M276,16.4H534.2V223.6H276ZM493.6,18.8L497.5,63.7L485.8,74.7L489.8,80L482.5,85.1L452.6,63L447.2,65.7L485.8,99.5L500.2,92.2L531.4,187.4L506.2,204.5L461.4,216.9L442.4,200.5L418.8,215.3L378.6,218.5L297.1,150.7L320.6,110L457.6,27L467,33.6Z"/>
</g>
<g>
<rect x="16" y="250.4" width="257" height="206" fill="#0c90d2"/>
<path fill="#18a4c8" fill-rule="evenodd" d="M16,250.4L273,250.4L273,456.4L198.5,456.4L198.9,453.4L198.8,449.4L198,445.6L197,444.3L196,444.7L195,446.4L194.1,449.4L193.6,453.4L193.9,456.4L16,456.4ZM108,378L106.6,379.4L106.2,380.4L106.3,381.4L107,382.4L108,382.9L109,382.9L110.7,382.4L111.8,381.4L112.3,380.4L112.2,379.4L111.8,378.4L111,377.8L110,377.5ZM116,313.3L115.5,314.4L115.3,316.4L114.8,318.4L113,321.4L112.9,322.4L113.2,323.4L114,324.4L115,324.6L116,324.6L121,323.4L124,323.7L125.5,324.4L126.2,325.4L126.4,326.4L126.4,328.4L125.7,330.4L124.1,332.4L122,334.5L120.7,336.4L120.4,338.4L120.8,339.4L122,341.1L123,342L125,342.9L128,342.9L130,342.2L131.2,341.4L132.9,339.4L133.9,337.4L134.6,335.4L135.5,330.4L135.4,328.4L134.7,326.4L133,324.2L132,323.6L129,323L127.7,322.4L127,321.6L125.8,319.4L124.3,317.4L120,313.9L118,312.9L117,312.9ZM152.6,352.4L151,351L149,349.7L147,349.2L145,349.4L142,350.2L130,354.4L126,356.3L125,357.3L124.3,358.4L123.2,362.4L121.8,365.4L120.3,367.4L116,372.4L114.8,374.4L114.4,376.4L115.4,379.4L116.1,380.4L118,381.7L122,383.3L124,383.7L126,383.5L127,383.1L129,381.6L137,374.5L140,372.1L143,370.6L148,369.5L149.8,368.4L151.3,366.4L152.1,364.4L152.5,362.4L153.2,355.4L153.1,353.4ZM195.5,337.4L195.7,339.4L196.1,340.4L197.7,342.4L200.4,344.4L202.6,345.4L204,345.8L206,345.7L207,345.2L210,341.6L212,340.4L213,340.1L215,340.1L220,341.6L221,341.4L221.7,340.4L222,339.4L221.9,338.4L221,336.4L220,335.4L218.6,334.4L214,332.3L211,331.4L208,330.9L206,330.8L203,331.1L201,331.5L199,332.3L197.5,333.4L196.7,334.4L196,335.6Z"/>
<path fill="#3aaab4" fill-rule="evenodd" d="M16,250.4L273,250.4L273,456.4L204.1,456.4L202,448.5L200.1,443.4L198.8,441.4L198,440.8L197,440.6L196,440.9L195,441.6L193.5,443.4L192.3,445.4L189.9,450.4L188.1,456.4L16,456.4ZM101.1,418.4L100.6,417.4L99,416.4L96,416.3L91,417.4L89.4,418.4L88.8,419.4L89,420.4L90,421L92,421.2L100,419.7L100.8,419.4ZM117,311.3L116,311.6L115,312.4L114.5,313.4L113.7,317.4L110.9,321.4L110.3,324.4L110.8,326.4L111.4,327.4L113,328.7L116.1,330.4L116.8,331.4L117,338.4L119.4,346.4L121.1,350.4L121.1,352.4L120.3,359.4L119.3,362.4L115.9,367.4L112,371.6L108,374.4L106,376.1L104,379.3L103.6,380.4L103.5,381.4L104,383.2L105,385L106,386L108,386.9L110,387.1L116,386.1L118,386.1L121,386.6L125,387.8L126,387.8L128,387.1L132,383.9L134,382.6L142,379L149,376.2L151.7,374.4L154.3,371.4L156.5,367.4L157.2,365.4L157.9,362.4L157.9,358.4L157.4,356.4L155.9,352.4L153,348.4L152,344.9L151,344.2L150,343.8L144,342.8L143,342.4L142,341.5L141.4,340.4L141.1,337.4L142.5,329.4L142.2,327.4L141,325.4L138.9,323.4L135,320.5L129.5,317.4L124,314.7L120,312.2L118,311.4ZM160,347.3L159.2,348.4L159.4,349.4L160,350.1L161,350.4L162,350L162.6,349.4L162.6,348.4L161.6,347.4L161,347.2ZM189.4,339.4L189.6,341.4L190,342.3L192,343.9L194.8,345.4L200,347.6L203,348.6L205,348.8L207,348.3L208,347.7L211,343.8L213,342.5L215,342.1L220,343.2L221,343.2L222,342.9L222.7,342.4L223.4,341.4L223.8,340.4L224.1,338.4L223.7,336.4L222.6,334.4L220.6,332.4L217,330L214,328.5L210.3,327.4L207,326.9L203,326.8L196.9,327.4L195,327.9L193,329.1L191.9,330.4L190.5,333.4L189.7,336.4Z"/>
<path fill="#62b8a4" fill-rule="evenodd" d="M16,250.4L273,250.4L273,456.4L207.7,456.4L204.8,449.4L201.3,442.4L200,440.6L199,439.8L198,439.3L197,439.2L195.8,439.4L194.1,440.4L190.7,444.4L186.9,450.4L184.3,456.4L16,456.4ZM102.9,418.4L102.7,417.4L102.2,416.4L101,415.2L99,414.4L96,414.2L89.7,415.4L83,417.8L76.9,419.4L74.8,420.4L74.4,421.4L75.1,422.4L78,423.4L83,423.9L89,423.7L92,423.2L101,420.9L102.1,420.4L102.7,419.4ZM117,310.1L116,310.3L115,311L114,312.4L113.1,316.4L112.7,317.4L109.5,321.4L108.6,323.4L108.2,325.4L108.5,327.4L109,328.5L112.7,333.4L113.8,335.4L115.3,340.4L115.1,342.4L114,344.3L113,345.1L111,346L107,347L105,347.9L103.5,349.4L103,350.4L102.9,351.4L103.2,352.4L103.8,353.4L105,354.5L107,354.6L111,353.9L113,354.1L114,354.5L115.2,355.4L116.4,357.4L116.7,359.4L116.5,360.4L114.5,364.4L113,366.7L111,368.8L106,373.2L104.3,375.4L103,378.3L102.4,380.4L102.4,383.4L103,385.9L104,387.8L106,389.5L108,390.3L111,390.4L117,389.3L119,389.1L121,389.4L125,390.6L128,390.6L131,389.6L135,387.3L145,383.2L150,380.6L153.1,378.4L157,374.4L159.9,370.4L163.4,364.4L166.2,358.4L167.5,356.4L169,355.3L172,355.3L173,355L175,353.6L176.8,351.4L178.7,348.4L179.8,346.4L179.8,345.4L176.5,341.4L173.8,336.4L172.4,334.4L170.2,332.4L168,331.4L165.6,331.4L163,332.4L161,334.4L158.4,338.4L157,339.4L155,339.7L153,339.2L150.7,338.4L149.2,337.4L148.5,336.4L148.2,335.4L148.3,333.4L149.1,329.4L149.1,327.4L148.6,325.4L148.1,324.4L147.3,323.4L142,321L139,319.3L136.6,317.4L134,314.7L133,314.2L128,314.1L126,313.8L123,312.7L119,310.6ZM182.3,344.4L182.6,345.4L185,346.4L193,347.9L203,350.8L205,351.1L207,350.9L208,350.5L209,349.6L211,346.1L212,344.9L213,344.2L214,343.8L216,343.6L221,344.4L222,344.2L223.4,343.4L224.8,341.4L225.5,339.4L225.7,337.4L225.5,335.4L225,334.1L224,332.5L222,330.6L218,327.4L214,325.2L211,324.3L208,323.8L197,323.3L191,322.6L190,322.9L189,323.8L187.1,327.4L185.5,332.4L184.2,340.4Z"/>
<path fill="#8ccb8e" fill-rule="evenodd" d="M16,250.4L273,250.4L273,456.4L211,456.4L206.6,448.4L201.5,440.4L200.5,439.4L199,438.4L197,438L195,438.4L193.4,439.4L188.6,444.4L184,450.4L180.8,456.4L52.8,456.4L51,453.1L49,450.3L47,448.9L44,448.3L40,448.7L34,449.8L16,454.6ZM54.8,380.4L54.3,381.4L55,382.6L56,382.6L57,381.8L57.2,381.4L56.8,380.4L56,380.1ZM55.6,433.4L56,434.5L56.6,435.4L58,436.2L59,436.4L62,436.1L66,434.9L83,427.7L102,421.4L103.2,420.4L103.7,419.4L104,417.4L103.8,416.4L103,415L102,414L101,413.3L99,412.6L96,412.6L83,414.5L80,414.4L78,413.9L75.7,412.4L74.4,410.4L73.8,408.4L73.6,403.4L72.9,401.4L71.7,400.4L70,400.2L68,401.4L65.8,404.4L58.2,420.4L56.7,424.4L55.8,427.4L55.4,430.4ZM101.7,389.4L103,391.2L104.4,392.4L107,393.5L109,393.9L112,393.7L119,392.2L121,392.4L126,393.3L132,393.2L135,392.6L140,390.5L144,388.4L152,383L158.9,377.4L161.7,374.4L166,369L170.7,364.4L171.1,363.4L171.4,360.4L172.2,358.4L173,357.4L180,351.9L182,350.7L184,350.1L188,349.7L193,350.3L204,353L207,353.2L209,352.7L210,352.1L210.5,351.4L211.7,347.4L212.4,346.4L213.5,345.4L215,344.8L216,344.7L220,345.4L222,345.3L223.8,344.4L224.8,343.4L226.6,340.4L227.3,337.4L227.2,334.4L226.6,332.4L225,330L220.3,325.4L218,323.6L216,322.5L213,321.5L209,320.8L198,320.2L195,319.7L193,319L190,316.8L189,316.8L188,317.3L186.8,318.4L185.5,320.4L182,327.8L180.9,329.4L179,330.8L178,331L176,330.8L170,328.5L167,327.7L158,327.2L157,326.9L155,325.7L151.5,322.4L149,320.6L147,319.6L142,317.7L140,316.5L138.3,314.4L136.3,310.4L135,309.2L133.6,309.4L130,311.6L127,312.3L125,312.2L123,311.6L118,309.1L117,308.9L116,309.1L115,309.6L114,310.7L113.2,312.4L112.3,316.4L111.7,317.4L108.9,320.4L107.4,322.4L106.4,324.4L106.1,326.4L106.6,328.4L109,333.4L111.8,338.4L112.1,339.4L112,340.4L111.4,341.4L110,342.2L106,342.2L105,342.6L104,343.4L100.4,347.4L98.9,350.4L98.8,351.4L99,352.4L99.7,353.4L102.2,355.4L105,356.9L111.1,357.4L112.5,358.4L113.1,359.4L113.2,360.4L112.7,362.4L111,365.2L105,371.1L104,372.4L102.9,374.4L102,377.5L101,384.4L101.1,387.4ZM169,301.4L168.7,302.4L169,302.7L170,303.1L170.6,302.4L170.1,301.4Z"/>
<path fill="#a4d284" fill-rule="evenodd" d="M16,250.4L273,250.4L273,456.4L214.4,456.4L209.7,449.4L202.2,439.4L200,437.6L199,437.2L197,436.9L195,437.2L193,438.2L186.3,444.4L183.4,447.4L181,450.4L177.2,456.4L68.3,456.4L67.9,453.4L67.9,451.4L68.4,448.4L69,446.4L70.4,443.4L71.7,441.4L75,437.4L79.5,433.4L85.4,429.4L91.4,426.4L101,422.5L103,421.4L104.6,419.4L105.2,417.4L104.9,415.4L103.6,413.4L102,411.7L100,410.8L98,410.7L92,411.7L85,412.1L81,411.7L79,410.8L78,409.8L77.2,408.4L76.4,402.4L75.6,400.4L74.9,399.4L74,398.7L72,398.1L70,398.3L68,399.1L64.6,401.4L62.7,403.4L57,410.6L53,414.9L48,419.5L42,424.1L37,427.4L32,430.1L25,433.6L16,437.6ZM54,377.3L52.2,378.4L50.5,380.4L49.8,382.4L49.9,384.4L51,386L53,387L55,387.2L58,386.5L60,385.4L61.8,383.4L62.6,381.4L62.5,379.4L62,378.4L61,377.5L59,376.8L56,376.7ZM98.7,391.4L100,393.5L103,396L106,397.4L109,397.9L112,397.6L118,396L121,395.6L128,395.9L133,396.7L134,396.6L136,396.1L143,393.1L146,391.3L153,385.4L160.5,380.4L164.1,377.4L165.8,375.4L169.2,370.4L171.2,368.4L173.6,366.4L174.4,365.4L174.6,364.4L174.2,360.4L174.8,358.4L177.1,356.4L181,353.8L183,352.9L185,352.4L187,352.1L190,352L195,352.7L204,354.9L207,355.2L209,355L211,354.2L212,353.2L212.4,352.4L212.7,348.4L213.1,347.4L214,346.4L215,345.9L216,345.8L221,346.5L223,346.1L224,345.5L225.3,344.4L226.8,342.4L227.8,340.4L228.8,337.4L229.1,335.4L229.2,333.4L228.8,331.4L228,329.2L225,324.8L221.9,321.4L220,320L218.7,319.4L214,318.1L206,317.3L195,317.1L193,316.6L190,314.5L189,314.1L187,314.2L185,315.3L184,316.4L180.4,323.4L179,325.4L178,326.1L177,326.5L175,326.6L173,326.2L167,324.1L160,322.4L156,320.9L148,316.7L143,314.4L141,312.8L139.2,310.4L137.3,308.4L136,307.4L135,307.1L133,307.4L129,310.1L128,310.6L126,311L123,310.6L118,307.7L117,307.6L116,307.7L115,308.2L114,309.1L113,310.7L112,315.4L111.6,316.4L110.8,317.4L106.5,321.4L104.3,324.4L104,325.4L103.8,327.4L105.3,333.4L105.3,335.4L105,336.4L104.5,337.4L103,339.3L101.5,342.4L97.9,346.4L96.8,348.4L95.8,351.4L95.7,352.4L96,353.4L97,354.5L105,358.9L109.2,360.4L109.6,361.4L109.3,362.4L108,364.4L103,369.8L101.5,372.4L100.8,375.4L100.6,380.4L98.3,387.4L98.2,389.4ZM166,298.9L165,300.4L164.8,301.4L164.9,302.4L165.3,303.4L166.1,304.4L168,305.9L170,306.6L171.4,306.4L172.8,305.4L173.3,304.4L173.3,302.4L172.9,301.4L172,300.2L170,298.6L169,298.2L168,298.1L167,298.3ZM183.3,383.4L183.3,384.4L184,384.7L185.1,384.4L184.8,383.4L184,383.1Z"/>
<path fill="#badb70" fill-rule="evenodd" d="M16,250.4L273,250.4L273,456.4L218,456.4L212.4,449.4L205,440.9L203,438.4L202,437.4L200,436.3L197,435.7L194,436.3L192.1,437.4L183.6,444.4L180.4,447.4L177.6,450.4L175.2,453.4L173.3,456.4L77,456.4L75.9,452.4L75.7,450.4L76,447.4L76.4,445.4L77.5,442.4L78.5,440.4L80.4,437.4L84,433.4L89,429.4L94.1,426.4L102,422.6L103.7,421.4L104.7,420.4L105.9,418.4L106.6,416.4L106.7,415.4L106.5,414.4L104.3,409.4L103,408.2L102,407.8L99,408L94,409.7L91,410.1L84,409.5L81,408.5L80,407.2L79.3,401.4L78.3,398.4L77.5,397.4L76.2,396.4L74,395.7L71,396.1L64,398.8L61.6,400.4L55,406.2L52,408.1L49,409.6L44,411.5L30,416L24,418.5L16,422.2ZM66,376.6L65,375.5L64,374.9L62,374.3L60,374.1L56,374.4L52,375.8L50,377.1L48.6,378.4L45.7,382.4L44.6,385.4L44.7,387.4L45.2,388.4L46.2,389.4L48,390.4L50,390.9L52,391L55,390.9L57,390.5L59,389.8L61,388.8L64.2,386.4L65.1,385.4L66.4,383.4L67.1,380.4L66.8,378.4ZM93.4,392.4L95.3,395.4L104,402.7L106,403.7L108,403.9L111,403.2L118.8,399.4L122.8,398.4L128,398.2L130,398.6L133,400.2L134,400.1L138,397.9L145,395.4L146.9,394.4L150,392.1L155,387.4L156.3,386.4L159,384.9L166.7,381.4L168.3,380.4L169.4,379.4L170,378.2L171.1,373.4L171.9,371.4L173.3,369.4L175,367.7L176,365.9L176.2,364.4L176.1,361.4L176.7,359.4L178,357.9L180,356.5L182,355.5L185,354.5L187,354.1L190,354L195,354.6L205,357L208,357.1L210,356.9L212,356L213.5,354.4L214,352.4L213.8,349.4L213.9,348.4L214.6,347.4L216,346.9L220,347.7L222,347.7L224,346.8L225,346L227.3,343.4L229.6,339.4L231,335.4L231.5,332.4L231.4,329.4L230.6,325.4L229,320.9L227.3,317.4L225,314.3L224,313.6L223,313.3L214,314.1L200,313.5L195,313.6L194,313.4L189,310.3L187,309.7L186,309.7L184,310.5L181.8,312.4L179.9,315.4L177.9,321.4L177,322.4L175,322.6L173,322L166,318.7L154,315.2L152.5,314.4L149,311.5L142,309.2L136.9,306.4L135,305.6L134,305.6L132,306.2L128,309L127,309.5L125,309.9L123,309.7L122,309.3L120.8,308.4L119,306.6L118,306.1L117,306L115,306.7L114,307.4L112.6,309.4L112,311.4L111.3,315.4L110.8,316.4L109,318L103.3,322.4L101.9,324.4L101.3,327.4L102,334.4L101.2,339.4L100.7,340.4L100,341.2L98,342L97,343.2L95.7,345.4L94.6,348.4L93.9,352.4L94,353.5L95,355.4L97,357L100.5,358.4L102.1,359.4L103.9,361.4L104.2,362.4L104.1,363.4L103.7,364.4L100,368.4L99,370.4L98.7,373.4L99.5,379.4L99.4,380.4L98,382.6L93.5,386.4L92.9,387.4L92.6,389.4ZM168,294L167,294.4L165,295.6L162.2,298.4L160.4,301.4L159.7,303.4L159.6,304.4L160.3,305.4L165,307.5L168,310.1L170,310.8L172,310.7L174,309.8L175,308.8L176,307.4L176.6,305.4L176.4,303.4L175.5,301.4L174.8,300.4L172.7,298.4L170,294.6L169,294ZM250.9,423.4L251.3,424.4L252,424.8L253,424.7L253.4,424.4L253.7,423.4L253,422.6L252,422.5ZM150.5,441.4L150,442.4L150,443.4L150.5,444.4L152,445.3L154,445.4L155,444.9L155.5,444.4L156,443.4L156,442.4L155.5,441.4L154,440.3L152,440.3ZM176.1,382.4L176.2,383.4L177.5,385.4L180,387.1L182,387.7L184,387.8L186,387.4L187.7,386.4L188.6,385.4L189.1,384.4L189.2,383.4L189,382.4L188.3,381.4L187,380.3L184,379.3L181,379.4L177.8,380.4L176.5,381.4Z"/>
<path fill="#d6e65c" fill-rule="evenodd" d="M16,250.4L273,250.4L273,456.4L222.3,456.4L203,436.5L200,434.9L197,434.6L194,435L192,435.9L180.3,444.4L176.6,447.4L173.4,450.4L170.8,453.4L168.7,456.4L84.3,456.4L82.5,453.4L81.8,451.4L81.3,449.4L81.2,446.4L81.4,444.4L82.2,441.4L83.6,438.4L84.8,436.4L88,432.4L91.4,429.4L94.4,427.4L102,423.2L104.4,421.4L106.2,419.4L109,415.6L111.3,413.4L112,412.4L114.1,408.4L115.5,406.4L118.6,403.4L122.2,401.4L125,400.6L127,400.3L129,400.4L130,400.7L130.9,401.4L132,402.8L133,403L138,400L141,398.9L146,397.5L148.6,396.4L153.3,393.4L155.7,391.4L158,389L160,388.1L163,387.3L167,386.7L170,386.8L172,387.2L178.4,389.4L182,389.9L186,389.5L189,388.4L191.5,386.4L192.6,384.4L192.7,382.4L191.7,380.4L190,378.9L187,377.5L184,376.8L179,376.1L177,375.5L175.5,374.4L174.9,373.4L174.8,371.4L176.9,367.4L177.8,361.4L179,359.4L181,357.9L183,357L186,356.2L189,355.9L192,356L195,356.5L203,358.7L206,359.2L210,359.1L213,358.4L214.6,357.4L215.7,355.4L216,353.4L215.3,349.4L215.8,348.4L217,348.4L220,349.3L222,349.2L223,348.8L225,347.3L227.7,344.4L229.8,341.4L231.5,338.4L233.3,334.4L234.5,330.4L235,326.4L235,321.4L234.7,317.4L233.7,313.4L232.3,310.4L230.5,308.4L227.7,306.4L219,302L218,302L217,302.9L216.7,304.4L217,306.4L216.8,307.4L216,308.3L213.7,309.4L210,310L206,309.8L201,308.9L195.9,307.4L189,304.1L187,303.6L182,303.2L180,302L177.1,298.4L175.8,296.4L174.9,292.4L174,290.4L173,289.4L171,288.3L170,288.2L169,288.4L168,289L158,298.3L155,300L153,300.4L151,300.1L150,299.7L146.8,297.4L146,297.1L145,297.1L144.4,297.4L143.7,298.4L143.4,299.4L143.5,303.4L143.2,304.4L142,305.7L140,306L139,305.8L135,304L133,304.2L131,305L126.1,308.4L124,308.8L123,308.7L122,308.2L121.2,307.4L120,305.2L119,304.5L118,304.3L116,304.5L115,305L113,306.7L111.6,309.4L111.1,311.4L110.9,314.4L110.6,315.4L110,316.2L108,317.7L101.9,321.4L100.7,322.4L100,323.4L99.2,325.4L98.8,327.4L98.6,336.4L98.3,337.4L95.7,340.4L93.4,344.4L92.7,346.4L92.3,352.4L93,355.4L94,357.1L96,359.2L97,360L99,360.9L99.5,361.4L99.3,362.4L96,364.9L95.2,366.4L94.6,370.4L95,376.4L94.7,377.4L88,380.8L85.7,382.4L83.5,385.4L81.8,390.4L81,390.7L76,390.4L73,390.6L71,391.7L68.3,394.4L67,395.1L65,395L63.5,394.4L63.4,393.4L64.1,392.4L66,390.8L70,388.4L71,387.1L71.6,385.4L71.7,383.4L70.9,379.4L69.7,376.4L68.5,374.4L67.6,373.4L66,372.5L64,371.9L61,371.6L56,372.4L52,373.6L49,375.1L37.4,383.4L35,386.4L30.7,394.4L28,398.1L23.2,402.4L16,407.4ZM247.7,422.4L247.4,423.4L247.5,424.4L247.9,425.4L249,426.5L251,427.2L253,427.4L255,426.9L255.9,426.4L256.8,425.4L257.1,424.4L257.2,423.4L256.8,422.4L256,421.4L254,420.4L252,420.3L250,420.6L248.6,421.4ZM147.7,442.4L147.7,444.4L148.1,445.4L149.2,446.4L151,447L154,447.2L156,446.8L157,446.3L157.8,445.4L158.2,444.4L158.2,442.4L157.2,440.4L156,439.4L154,438.6L152,438.6L150,439.3L148.7,440.4ZM219,363.9L218,364.7L217,366.7L216.8,368.4L217.4,370.4L218.4,371.4L220,371.9L221,371.9L223,371.2L224.1,370.4L224.8,369.4L225.1,368.4L225,367.4L224.6,366.4L223.9,365.4L222,364.1L220,363.6ZM232.2,378.4L231,378L230,378.1L228,379.1L226.5,380.4L225.9,381.4L225.8,382.4L226.1,383.4L227,384.4L228,384.8L230,385L231.6,384.4L232.8,383.4L233.4,382.4L233.7,381.4L233.7,380.4L233.3,379.4ZM50.4,399.4L50.5,398.4L51.2,397.4L52.9,396.4L55,395.9L56,396L57.2,396.4L57.4,397.4L57,398.4L56.1,399.4L55,400.1L54,400.5L52,400.5L51,400.1ZM85,397.3L86,396.7L88,396.9L91,398.4L94,400.5L95.6,402.4L96,403.4L96,404.4L95.7,405.4L94.9,406.4L93,407.7L91,407.8L88.9,407.4L87,406.7L84.8,405.4L84.2,404.4L83.9,402.4L84.2,399.4Z"/>
<path fill="#fcf945" fill-rule="evenodd" d="M16,250.4L273,250.4L273,456.4L227.5,456.4L210,441.1L204,435.5L201,433.9L199,433.4L197,433.3L194,433.7L191,435L166.7,450.4L165,452.1L162.9,456.4L126.2,456.4L122,452.1L121,451.4L120,451L119,450.9L117,451.5L111,454.7L107.2,456.4L92.9,456.4L90,454.6L88,452.6L87,451L86,448.8L85.5,446.4L85.4,444.4L85.7,441.4L86.6,438.4L88.2,435.4L90.4,432.4L93.4,429.4L96.1,427.4L103.9,422.4L109,417.6L113,415.1L118.8,407.4L122,404.6L125,403.1L128,402.5L129,402.6L131,403.8L132,404.2L133,404.1L137,402L139,401.2L146,399.8L149,398.8L157,394.9L161,393.3L164,391.6L166,390.9L170,390.5L179,391.9L184,391.7L188,390.9L191,389.8L193.6,388.4L195.9,386.4L197.3,384.4L197.6,382.4L196.9,380.4L196,379.4L194,377.9L191,376.3L180.9,373.4L179.3,372.4L178.6,371.4L178.3,369.4L178.6,363.4L179,362.3L180,360.8L182,359.4L184,358.7L187,358.1L192,358L196,358.7L205,361.6L207,361.9L212,362L213,362.4L213.6,363.4L213.6,364.4L212.9,369.4L212.9,371.4L213.4,373.4L214.6,375.4L215.6,376.4L217,377.3L219.4,378.4L220,379.4L220.6,382.4L221.7,384.4L222.5,385.4L223.8,386.4L225.9,387.4L229,387.9L231,387.8L233,387.3L234.8,386.4L236.1,385.4L237.7,383.4L238.3,381.4L238.2,378.4L237.2,375.4L236,373.6L235,372.6L231,369.6L227.7,365.4L226,363.6L221.2,359.4L219.9,357.4L219.6,356.4L219.5,354.4L219.8,353.4L220.4,352.4L224,350L229.7,343.4L234.5,336.4L237.2,331.4L239.2,325.4L240.6,318.4L240.8,313.4L240.5,310.4L240,308.4L239.1,306.4L238,304.7L236.7,303.4L235,302.4L233,302L229,302.5L226,302.1L224,301.4L220,298.7L218,298.1L217,298.3L216,298.8L214.6,300.4L213,303.3L211,304.6L208,305L204,304.3L202,303.5L200,302.4L198.7,301.4L196.9,299.4L196.3,298.4L195.6,296.4L195.7,291.4L195.4,290.4L195,290.1L193.4,289.4L186,287.5L182,287L178,285.9L175,285.8L171,285.2L169,285.5L167,286.4L158,294.8L156,296.3L154,297.2L152,297.5L151,297.3L148,295.9L146,295.3L144,295.6L143,296.1L141.7,297.4L141.1,298.4L140,301.5L139,302.9L136,302.1L135,302L133,302.4L130,303.7L126,306.7L124,307.5L122.9,307.4L122.2,306.4L121.5,304.4L120,303L118,302.5L116,302.8L114,303.8L113,304.6L112,305.9L111.2,307.4L110.4,310.4L110.1,314.4L109.7,315.4L108,316.7L101,320.2L99.4,321.4L98.6,322.4L96.5,326.4L94,336.4L93.1,339.4L92,340.8L91,340.8L90,339.4L89.1,337.4L88.2,336.4L87,335.7L86,335.5L85,335.5L84,335.9L83,336.7L82.1,338.4L81.9,340.4L82.1,341.4L83,342.9L85,344.5L88,346L89.1,347.4L90,349.6L91.2,355.4L92.9,359.4L93.4,361.4L93.2,363.4L91.6,368.4L90.4,373.4L89.2,375.4L88.2,376.4L85,378.8L82,380.4L80,381L78,380.9L76,379.9L75,379.1L70.8,373.4L69,371.6L68,370.9L66,369.9L63,369.3L61,369.3L58,369.8L49,372.5L33.9,379.4L30.6,381.4L28,383.4L16,393.6ZM244.3,422.4L244.2,424.4L245,426.4L247,428.3L248,428.8L250,429.4L255,429.5L257,429.1L258.3,428.4L259.4,427.4L260,426.4L260.6,424.4L260.4,422.4L259.3,420.4L258.1,419.4L257,418.9L255,418.5L250,418.5L248,418.9L246.8,419.4L245.5,420.4ZM145,443.4L144.7,444.4L145,446.4L146,447.8L148,448.9L150,449.1L153,449L158,449.3L159,449.1L160.2,448.4L160.9,447.4L161.1,446.4L160.8,443.4L159.4,440.4L158.6,439.4L157,438L155.8,437.4L154,436.9L151,437L149.8,437.4L148.1,438.4L146.3,440.4ZM222.5,376.4L223.2,375.4L224,374.9L225,374.7L225.8,375.4L225.3,376.4L224,377.1L223,377.1Z"/>
<path fill="#fdd535" fill-rule="evenodd" d="M16,250.4L273,250.4L273,456.4L234.9,456.4L227,451.1L216,443.2L205,434.2L202,432.7L200,432.1L198,431.9L195,432.1L192,432.9L190,433.9L182,438.5L176,441.5L171,443.6L168,444.2L166,443.9L165,443.5L164,442.7L160,438.3L158,436.7L156,435.6L153,435L151,435.2L149,435.7L147,436.8L145.2,438.4L141.9,443.4L141.4,446.4L141.5,449.4L142.2,452.4L143,454.2L144,455.4L141,456.2L139,456.3L136,456.1L132,455L130,454L128,452.7L123,448.4L121,447.4L120,447.3L117,447.9L109,451.8L106,452.9L102,453.6L98,453.4L95,452.5L92,450.4L90,447.7L88.9,444.4L88.8,441.4L89.6,437.4L91.6,433.4L94.1,430.4L96.3,428.4L104.6,422.4L109,418.8L114,416L115.8,414.4L121.3,408.4L124,406.4L126,405.4L128,405L132,405.3L133,405.1L137,403.2L139,402.6L146,402L149,401.3L152,400.3L158.1,397.4L162,396L165,394.4L167,393.7L170,393.4L178,394.1L181,394L191,392.1L196.1,390.4L205,385.5L208,384.6L210,384.6L212,385L222.8,389.4L225,389.9L228,390.3L232,390.2L235,389.5L237.5,388.4L240.1,386.4L242,383.7L242.5,381.4L242.4,377.4L242,375.4L241,373.2L239.9,371.4L238,369.2L231,364.5L226,360.3L223.7,357.4L223.1,355.4L223.5,353.4L226,349.4L237.7,335.4L239.9,332.4L243.5,325.4L246.2,318.4L247.4,314.4L248.2,310.4L248.5,306.4L248.5,303.4L248,300L247,296.8L245.7,294.4L244,292.4L242,291.1L240,290.5L238,290.5L232,291.3L230,290.9L229,289.8L227,286.2L226,285.5L224,285.1L222,285.5L220,286.4L213,291.7L210,293.4L208,293.8L207,293.2L205,288.4L203.8,286.4L202.8,285.4L201,284.1L199,283.6L194,283.7L184,282.7L182,282L179,280.2L177,279.7L175,280.1L168,282.9L166,284L164,285.5L157,292.4L155,293.8L153,294.7L151,294.8L146,293.8L144,294L143,294.3L141.1,295.4L138,298.8L137,299.4L131,301.2L125,303.9L124,303.6L122,301.9L120,301L118,300.7L115,301.3L113,302.6L112,303.5L110.7,305.4L109.6,308.4L109,314.3L108,315.4L101.1,318.4L99,319.7L96.3,322.4L91,329.7L89,331L87,331.3L85,331L83.7,331.4L83,331.9L81.5,333.4L80,336.2L79.4,339.4L79.5,341.4L80,343L81.6,345.4L86,349.1L87.7,351.4L90.4,358.4L91.2,361.4L91.2,363.4L90.8,365.4L88.8,370.4L87.1,373.4L85.1,375.4L83,376.6L81,377.2L79,377.2L78,377L76,375.7L71,370.5L68,368.4L66,367.5L64,367L62,366.9L60,367L57,367.7L52,369.3L46,370.8L32,375L24.6,378.4L16,383.6ZM241.2,421.4L240.9,422.4L240.9,424.4L242,427.4L243,428.7L244.8,430.4L246,431.1L248,431.9L256,432.7L258,432.6L260,432.1L261.5,431.4L263,430.2L264.3,428.4L265,426.4L265.2,424.4L265.1,422.4L264,419.7L263,418.4L261.8,417.4L259,416.1L256,415.8L249,416.1L247,416.4L245,417.1L243.2,418.4L242,419.8ZM226,294.8L227,295.1L227.4,296.4L227,297.9L226,298.7L224.8,298.4L224.2,297.4L224.2,296.4L225,295.2ZM180,363.9L181,362.4L182,361.6L185,360.5L190,360L193,360.2L195,360.7L199,362.4L205.1,366.4L205.9,367.4L206.2,368.4L206.3,369.4L206,371.1L205,373.1L204,374.1L203,374.7L201,375L196,374.5L186,372.2L183,371.2L181.8,370.4L181,369.5L180,366.6L179.8,365.4ZM154.5,455.4L154.3,456.4L144.5,456.4L144,455.4L146,455.1L150.3,453.4L152,453.1L153.5,453.4L154.4,454.4Z"/>
<path fill="#fdba34" fill-rule="evenodd" d="M16,250.4L273,250.4L273,421.2L271.7,418.4L270.3,416.4L269,415.1L267,413.6L265,412.6L263,412L261,411.7L258,411.6L248,412.8L245,413.6L243,414.6L240.6,416.4L238.9,418.4L237.9,420.4L237.4,423.4L237.9,426.4L239,428.7L241,431.4L244,434.3L246,435.5L249,436.7L257,438.9L260,439.3L262,439.3L265,438.8L267,438L269,436.7L270.3,435.4L271.8,433.4L273,430.8L273,456.4L254.8,456.4L247,454.4L241,452.5L232,448.8L222,443.6L215,439.3L208,434.1L205,432.2L202,431L199,430.4L195,430.6L192,431.4L178,438.1L173,439.8L169,440.5L167,440.3L165,439.6L159,435.3L156,433.7L153,433.1L151,433.2L149,433.7L146,435.1L143.2,437.4L140.4,441.4L138,446.6L137,448.3L136,449.4L135,450L133,450.5L132,450.5L130,450L125,446.6L123,445.5L120,445L118,445.2L116,445.7L109,448.7L106,449.7L102,450.2L99,449.9L96,448.6L94,446.9L92.4,444.4L91.6,441.4L91.7,438.4L92.5,435.4L94.1,432.4L96.6,429.4L105,422.6L109,419.9L115.5,416.4L123,409.9L125,408.5L127,407.6L132,406.5L136,404.7L138,404L140,403.9L146,404.3L150,403.6L156,401.3L162.4,397.4L166,396.3L170,396L177,396.4L181,396.3L187,394.9L195,393.8L205,391.2L209,390.7L213,390.8L225,392.5L230,392.6L234,392.4L237,391.9L240,390.9L242,389.7L244,387.8L246.3,384.4L247.7,380.4L247.8,377.4L246.6,374.4L243.1,369.4L240,366.2L238,364.9L231,361.4L228,359.1L226,356.6L225.5,354.4L225.8,352.4L227.2,349.4L235,340.7L241.7,334.4L244.9,330.4L248.3,325.4L251.9,319.4L255,313.4L257.5,307.4L259.5,301.4L261.1,294.4L262.1,287.4L262.3,281.4L261.7,275.4L260.3,270.4L258.5,266.4L255.7,262.4L252,258.8L249,256.7L246,255.1L242,253.4L238.4,252.4L234,251.5L230,251.2L227,251.3L224,251.9L221,253.2L219.3,254.4L217.5,256.4L216.5,258.4L216.2,260.4L216.6,262.4L217.5,264.4L220.5,269.4L221.2,271.4L221.3,273.4L221,275.4L219.8,277.4L217.7,279.4L214.4,281.4L213,281.9L211,282L208,281L199,275.4L197.9,274.4L197.3,273.4L197,272.1L196,271.7L191.9,273.4L186,275.2L184,275.4L180,275.4L177,276L168,279.7L163.6,282.4L161.3,284.4L156,290L154,291.5L152,292.4L150,292.7L145,292.4L143,292.6L140,294.1L136.3,297.4L135,298.2L127,300.1L125,300.2L121,299.1L118,298.8L115,299.4L113,300.5L110.9,302.4L109.1,305.4L108.3,308.4L107.9,312.4L107.6,313.4L107,314.1L105,315.3L101,316.8L97.8,318.4L89,325.9L87,326.9L84,327.6L82,328.6L80,330.4L78.3,333.4L77.4,336.4L77,339.4L77,341.4L77.4,343.4L79,346.4L80.9,348.4L84.3,351.4L86,353.5L88.3,358.4L89.4,362.4L89.1,365.4L88,367.9L85.6,371.4L83,373.6L81,374.4L80,374.4L78,373.8L76,372.3L71,367.8L68,365.8L66,364.9L64,364.3L61,364.1L58,364.6L52,366.6L39,368.6L31,370.3L24,372.6L16,376.2ZM182.9,365.4L183.4,364.4L185.3,363.4L189,362.9L193,363L194.3,363.4L195.8,364.4L196.7,365.4L197.2,366.4L197.4,367.4L197.1,368.4L196,369.4L194,370L191,370L187.8,369.4L185.1,368.4L183.8,367.4L183.1,366.4Z"/>
<path fill="#fea42a" fill-rule="evenodd" d="M16,369.6L16,250.4L202.6,250.4L191,257.9L186,261.4L183,264.1L178.1,269.4L175.9,271.4L172,274.2L166,277.4L163,279.4L160,282L155,287.4L152.5,289.4L151,290.2L149,290.8L144,290.8L141,291.5L139,292.5L135,295.5L132,296.6L129,297.2L126,297.4L121,296.8L118,296.8L116,297.1L114,297.8L111,299.8L108.8,302.4L107.4,305.4L106.1,311.4L105,313L104,313.6L97,316.7L89,321.9L82,325.1L78.9,327.4L77.2,329.4L75.8,332.4L74.3,339.4L74.3,342.4L75,345.4L76,347.4L77.7,349.4L82,353.1L84,355.3L85.9,358.4L87,361.1L87.4,363.4L87.3,365.4L86,367.5L83,370.2L81,371.1L79,370.8L77,369.6L70,363.9L67,361.8L64,360.2L61,359.6L59,359.9L50,362.5L37,364L30,365.3L23,367.1ZM272.3,250.4L273,250.4L273,251.2ZM273,300L273,404.3L269,403.2L266,403L262,403.3L257,404.6L250,406.8L245,408.9L241,411.3L237.4,414.4L235.8,416.4L234.5,418.4L233.7,420.4L233.3,423.4L233.5,425.4L234.3,428.4L237.7,434.4L238.6,437.4L238.7,439.4L238.3,440.4L237.4,441.4L235,442.1L233,442.2L229,441.5L225,440.4L221,439L217,437.2L209,432L205.9,430.4L202,429.1L198,428.7L195,429L192,429.7L178,435.6L173,437L169,437.5L166,437.3L164,436.5L158,432.5L156,431.6L153,431L151,431.1L149,431.5L145,433.2L141.8,435.4L140,437.5L137.3,442.4L136,444.2L134,445.8L132,446.4L130,446.1L124,443.3L121,442.8L119,442.8L117,443.2L108,446.4L104,447.2L101,447L99.1,446.4L97.3,445.4L96,444.2L94.9,442.4L94.2,440.4L94,438.4L94.2,436.4L94.8,434.4L95.8,432.4L97.1,430.4L99,428.4L103.4,424.4L107,421.9L117.7,416.4L126.2,410.4L132,408L137,405.4L140,405.5L145,407.1L147,407.1L149,406.8L152,405.9L158,403.3L160,402.1L163,399.2L165,398.6L169,398.5L176,399L180,399L183,398.6L188,397.3L194,396.9L204,395.5L208,395.1L239,395.1L243,394.4L245,393.4L246.5,392.4L251,387.4L258.6,382.4L260.8,380.4L261.4,379.4L262.1,377.4L261.9,375.4L261.5,374.4L260.1,372.4L258,371.2L257,371L253,371.1L250,370.3L247,368.2L243,363.9L241,362.4L239,361.5L234,360.1L230.6,358.4L229,357.1L227.8,355.4L227.3,353.4L227.5,351.4L228.6,349.4L234,343.6L237,340.9L241.8,337.4L245.4,334.4L250.4,329.4L256,323.4L261.1,317.4L265.7,311.4L269.8,305.4Z"/>
<path fill="#fe8c23" fill-rule="evenodd" d="M16,363.4L16,250.4L189.3,250.4L182,257.2L171.3,269.4L169,271.4L161,277.4L158,280.2L153.1,285.4L151,287.1L148,288.5L143,289L140,289.8L134,293L131,294.1L127,294.7L118,294.6L115,295.3L113,296.1L110,298.2L107.3,301.4L105.8,304.4L104,309.8L102.8,311.4L101.3,312.4L80.8,322.4L78,324.2L75.6,326.4L74.1,328.4L72.6,331.4L70.7,338.4L70.4,341.4L70.7,346.4L70.5,350.4L71.3,351.4L76,353.4L79,355L80.7,356.4L82,357.7L83.6,360.4L84.2,362.4L84.1,364.4L83,365.9L82,366.5L81,366.7L79,366.4L76,364.9L74,363.4L71.4,360.4L70,357.4L69.8,355.4L70.2,351.4L69.3,350.4L66,347.9L63,344.7L62,344.1L60,343.7L57,344.2L54.9,345.4L52.6,347.4L47.9,353.4L46,354.9L44,356L39.4,357.4L24,361ZM273,318L273,369.3L268,367L263,365.7L259,365.4L252,365.8L250.1,365.4L248.8,364.4L245,360.3L243,358.6L241,358L237,358L234,357.4L231.8,356.4L230,354.8L229.3,353.4L229,352.4L229.2,351.4L229.7,350.4L231.2,348.4L235,344.5L238,342.2L246,337.4L253.4,332.4L264.6,324.4ZM239.8,402.4L239.7,404.4L238.8,406.4L236.4,409.4L230.8,415.4L228.8,418.4L227.9,421.4L227.7,429.4L227.3,431.4L226,433L224,433.8L221,434L218,433.5L210,429.5L207,428.3L202,427L198,426.8L195,427.1L191,428.1L181,432.2L177,433.5L173,434.4L167,435.1L165,434.7L163,433.8L159,430.6L157,429.4L155,428.8L152,428.6L150,428.9L147,429.9L143,431.6L139.9,433.4L137.8,435.4L135,440.8L134,441.6L132,442.2L130,442.1L124,440.6L120,440.4L116,441.2L108,444L105,444.4L103,444.4L101,443.9L99,442.8L97.7,441.4L96.6,439.4L96.3,436.4L96.6,434.4L97.4,432.4L99.4,429.4L104.1,424.4L108,422.1L120.6,416.4L127.1,412.4L133,409.3L136,407.5L137,407.1L138,407.1L139.2,407.4L140.8,408.4L143,410.4L144,410.8L146,411L148,410.7L150,410L161,405.4L162.9,404.4L165,402.7L167,401.8L170,401.7L180,402.4L184,402.3L194.5,400.4L201,399.5L206,399.2L216,399.3L229,397.5L232,397.8L236,399L238.4,400.4L239.3,401.4Z"/>
<path fill="#fe731e" fill-rule="evenodd" d="M16,357.1L16,250.4L181.3,250.4L167.3,267.4L158,276L151.9,282.4L149,284.8L146,286L139,287.8L131,291.1L127,291.8L118,292.3L115,293L112,294.3L108.9,296.4L106.2,299.4L104.4,302.4L102,307.5L100.5,309.4L97.4,311.4L81,318.9L76,321.8L73.9,323.4L72,325.4L69.6,328.4L66,333.8L64,335.8L62,336.8L56,338.5L52,340.3L48.6,342.4L41,348L36,350.7L30,352.9ZM273,331.1L273,358.1L267,358.7L257,360.2L253,360.3L250,359.2L243.8,355.4L242,355L237,355.1L235,354.8L233,353.9L232,352.6L231.8,351.4L232.1,350.4L233.4,348.4L236,345.7L239,343.8L244,341.4L256,336.5L264,333.7ZM232,403.4L232,404.4L231,406.6L229.2,408.4L225,411.8L223,414.4L221.6,417.4L219.8,423.4L218.4,425.4L217,426.2L214,426.4L202,424.6L199,424.5L196,424.8L191,426L177,430.9L167,432.9L165,432.6L164,432.1L162.2,430.4L160,427.5L159,426.8L156,425.7L154,425.4L152,425.4L149,426.2L137.3,431.4L135.8,432.4L132,436.6L130,437.5L120,437.8L116,438.8L109,441.4L107,441.8L105,441.9L103,441.6L101,440.7L99.6,439.4L98.6,437.4L98.5,434.4L99.4,431.4L101.4,428.4L105,424.3L107,423.2L114,420.4L122.7,417.4L134,411.5L136,410.6L137,410.5L138,410.7L142,413.7L144,414.7L147,415.1L149,414.7L151,414L157.7,410.4L167,406.3L170,405.5L173,405.4L177,405.8L187,407.9L189,407.4L195,404.6L198,403.8L201,403.3L206,403.4L214,404.9L217,404.9L221,404.1L227,401.6L229,401.2L230,401.2L231,401.9L231.5,402.4Z"/>
<path fill="#fd5316" fill-rule="evenodd" d="M16,350.7L16,250.4L174.9,250.4L166.8,261.4L162.7,266.4L151,278.8L149,280.6L147,282L144.1,283.4L131,287.9L127,288.8L117,290L114,290.9L111,292.3L108,294.3L105.7,296.4L103.4,299.4L99.7,305.4L98,307.2L96,308.7L91,311.2L79,316.3L75.1,318.4L70.8,321.4L63,328.3L59,330.9L48,336.1L37,342.4L32,344.9L25.9,347.4ZM262.1,347.4L261.5,349.4L259.8,351.4L256.6,353.4L253,354.3L249,354.1L245.2,353.4L242,352.4L238,351.9L236.6,351.4L235.8,350.4L235.9,349.4L236.4,348.4L237.4,347.4L239,346.5L244.9,344.4L250,343.4L254,343.1L258,343.6L260,344.4L261.2,345.4L261.9,346.4ZM213.6,415.4L213.3,417.4L212.9,418.4L212,419.5L210,420.8L207,421.4L199,421.6L195,422.1L177,428.1L167,430.3L166,430.3L165,429.5L163.4,425.4L162.5,424.4L157.4,421.4L156.4,420.4L156,419.4L156,418.4L156.4,417.4L158,415.4L159.3,414.4L164,411.9L169,410.1L172,409.6L175,409.6L185,411.5L188,411.6L191,411L198,408.3L202,407.5L204,407.5L206,407.9L209.2,409.4L210.5,410.4L212.4,412.4L213,413.4ZM146.4,421.4L146.3,422.4L145.8,423.4L144,425L142,426L136,428.2L129,432.5L126,433.6L117,435.5L110,438.8L107,439.5L104,439.2L102,438L101,436.7L100.5,435.4L100.4,433.4L100.9,431.4L102.5,428.4L105,425.1L107,423.9L115,421.2L124,419.5L127,418.5L133,415.9L135,415.4L136,415.4L138,415.9L144.6,419.4L145.8,420.4Z"/>
<path fill="#fc3214" fill-rule="evenodd" d="M16,344.2L16,250.4L169.3,250.4L162.2,260.4L156.6,267.4L149,275.7L147,277.5L144.3,279.4L140.1,281.4L131.8,284.4L127,285.6L117,287.4L114,288.2L111,289.5L108,291.3L105,293.7L102.4,296.4L97,303.3L95,305.2L93,306.5L89.3,308.4L78,313.1L73.3,315.4L68.3,318.4L60,324L54,327.2L30,338.9L24,341.3ZM166,419.4L166.2,418.4L166.9,417.4L168.2,416.4L170.6,415.4L173,415L176,414.9L187,415.8L189.4,416.4L190.5,417.4L190.4,418.4L189.6,419.4L188.2,420.4L187,420.9L175.8,424.4L172,425.2L170,425L168.8,424.4L167,422.1L166.2,420.4ZM126.1,425.4L125.9,426.4L125.3,427.4L123.2,429.4L121,430.6L116,432.7L112,435.4L110,436.4L107,437L105,436.7L103.3,435.4L102.7,434.4L102.4,432.4L103.2,429.4L105,426.2L106,425.2L107,424.8L115,422.7L117,422.5L120,422.8L123,423.4L125.5,424.4Z"/>
<path fill="#fb0c0e" fill-rule="evenodd" d="M16,337.8L16,250.4L163.8,250.4L157,260.4L151,268L145.8,273.4L143.3,275.4L141,276.9L137,278.8L132,280.8L127,282.2L116,284.7L110,287L107,288.8L104,291L101.4,293.4L94.9,300.4L92,302.8L89.3,304.4L72,312L57,320L50,323.4L29,332.7ZM117,426.2L117.2,427.4L116.7,428.4L114.7,430.4L111,433.3L109,434.2L108,434.3L106,433.9L105,433L104.5,431.4L104.7,429.4L105.5,427.4L106.3,426.4L107,425.9L109,425.3L114,425L116.1,425.4Z"/>
<path fill="#fff" fill-rule="evenodd" d="M15.4,249.8H273.6V457H15.4ZM233,252.2L236.9,297.1L225.2,308.1L229.2,313.4L221.9,318.5L192,296.4L186.6,299.1L225.2,332.9L239.6,325.6L270.8,420.8L245.6,437.9L200.8,450.3L181.8,433.9L158.2,448.7L118,451.9L36.5,384.1L60,343.4L197,260.4L206.4,267Z"/>
</g>
<g>
<rect x="276.6" y="250.4" width="257" height="206" fill="#0c90d2"/>
<path fill="#18a4c8" fill-rule="evenodd" d="M276.6,250.4L533.6,250.4L533.6,432.9L532.8,433.4L531.9,434.4L531.4,436.4L532.6,448.4L532.5,456.4L276.6,456.4ZM386.6,369.1L384.6,368.3L381.6,368.2L379.6,368.7L378.6,369.4L377.8,370.4L377.5,371.4L377.4,373.4L378.6,376.4L379.6,377.4L380.6,377.7L381.6,377.4L387,372.4L387.4,371.4L387.3,370.4ZM386.8,349.4L386.3,351.4L386.2,353.4L386.3,355.4L387,358.4L388,361.4L389.5,364.4L390.2,365.4L391.6,366.4L394.1,367.4L398.6,368.7L402.6,369.4L404.6,369.4L405.6,369L406.6,368.2L410.1,364.4L411.4,362.4L412.1,360.4L412.4,358.4L412.1,355.4L411.4,353.4L410.3,351.4L408.6,349.7L407.6,349.2L405.6,349L399.6,349.5L396.6,349.4L389.6,348L388.6,348L387.6,348.4ZM426,364.4L426.2,365.4L427.6,365.9L429.6,366L430.2,365.4L428.6,364.4L426.6,364.2ZM441.6,308.1L440.6,308.4L439.9,309.4L439.8,310.4L440.6,313.5L441.6,315L442.6,315.4L443.6,314.9L444.6,312.5L444.6,311.4L444.5,310.4L443.6,308.9L442.6,308.3ZM473.6,312.7L472.6,312.8L470.6,313.5L468.6,314.9L466.6,317L463.6,320.7L461.8,323.4L460.9,325.4L460.5,327.4L460.5,329.4L461,332.4L462.2,335.4L463.4,337.4L464.6,338.8L466.7,340.4L468.6,341.4L470.6,341.8L471.6,341.8L473.4,341.4L474.6,340.4L476.9,330.4L478.1,323.4L478.3,319.4L477.6,316.1L476.6,314.4L475.6,313.5Z"/>
<path fill="#3aaab4" fill-rule="evenodd" d="M284.6,250.4L533.6,250.4L533.6,426.6L529.6,426.4L522.6,425.4L521.6,425.6L520.8,426.4L521.1,428.4L525.2,437.4L526.9,443.4L527.7,449.4L527.6,456.4L276.6,456.4L276.6,352.2L297.6,361.1L302.6,362.4L306.6,362.3L310.6,361L312.6,359.9L314.6,358.3L315.8,356.4L318.6,348.7L319.5,347.4L320.6,346.6L321.6,346.2L323.6,346.2L324.6,346.8L326.6,349.5L327.6,349.9L328.6,350L330.6,349.3L337.6,344.7L340.6,343.2L342.6,342.6L344.6,342.3L347.6,342.6L349.6,343.4L351.6,344.6L353.6,346.2L356.8,349.4L358.6,350.7L361.6,351.5L368.6,352.5L369.5,353.4L369.8,355.4L369.6,357.4L367.5,370.4L367.5,372.4L367.8,373.4L368.5,374.4L372.6,377.9L376.8,382.4L378.1,383.4L379.6,384L380.6,384L382.6,383.1L388.6,376.9L391.6,374.8L393.6,374L396.6,373.9L399.6,374.6L402.6,376L407.6,379.4L409.6,380.3L411.6,380.5L412.6,379.9L412.9,379.4L413.9,375.4L414.6,373.6L415.6,372.3L416.6,371.6L418.6,371.1L429.6,371L432.6,370.6L435.2,369.4L435.9,368.4L436.1,367.4L436,366.4L434.6,363.7L430.6,358.2L428.6,356.4L426.6,355.5L420.6,354.6L418.6,354L416.6,352.9L410.9,348.4L408.6,347.2L405.6,346.4L399.6,346.4L397.6,346.1L394.6,344.8L392.7,343.4L388.4,338.4L386.3,335.4L385.1,332.4L383.6,326.8L382.7,324.4L381.6,322.4L380.6,321.5L378.6,320.9L362.6,320L356.6,319L353.6,318.1L350.6,316.7L347.6,314.9L344.6,312.7L338.5,307.4L331.4,300.4L323.1,291.4L299.6,264.9L291.6,256.7ZM438.6,306.3L437.7,307.4L437.3,308.4L437.4,313.4L437.1,319.4L437.6,321.4L438.6,322.4L441.6,323.7L448.6,324.8L450.6,325.6L451.6,326.4L453.6,328.8L461.2,340.4L462.6,341.9L464.6,343.4L467.6,344.7L470.6,344.9L473.6,344.1L475.6,342.8L476.5,341.4L481.3,330.4L484.1,323.4L485.3,319.4L485.7,316.4L485.5,314.4L484.6,312.1L482.6,309.7L479.6,307.3L477.6,306.2L475.6,305.5L472.6,305.5L468.6,306.4L466,307.4L463.6,308.9L462.1,310.4L457.6,316.6L455.6,318.1L453.6,318.6L452.6,318.4L451.6,317.6L450.6,315.9L450,313.4L449.7,308.4L448.6,306.4L447.6,305.6L445.6,304.7L442.6,304.5L440.6,305ZM336.4,396.4L335.6,395.8L333.6,395.4L329.6,395.5L327.6,396L326.6,396.7L324.6,399L321.8,401.4L321,403.4L320.9,404.4L321.2,405.4L321.9,406.4L322.6,406.9L323.6,407.2L325.6,407.3L329.3,406.4L333.3,404.4L334.6,403.5L335.6,402.3L336.6,397.4ZM456.6,436.3L455.6,436.2L454.6,436.5L453.5,437.4L453.1,438.4L452.9,439.4L453.1,440.4L453.6,441.2L454.6,441.8L455.6,441.9L457.4,441.4L458.4,440.4L458.6,439.8L458.7,438.4L458.2,437.4Z"/>
<path fill="#62b8a4" fill-rule="evenodd" d="M325.7,250.4L533.6,250.4L533.6,423L528.6,423.2L522.6,422.5L520.6,422.5L518.6,423.2L517.7,424.4L517.5,426.4L517.9,428.4L521.6,437.4L523.2,443.4L523.8,449.4L523.7,452.4L523.2,456.4L291.3,456.4L283.6,450.5L276.6,445.9L276.6,367.9L282.6,368.5L288.6,369.5L302.6,372.9L304.6,373.1L306.6,372.6L309.6,371L313.6,367.9L316.6,364.9L322.6,357.9L324.6,356.2L330.6,353.3L338.6,348.8L341.6,347.9L343.6,347.6L345.6,347.7L347.6,348.2L349.6,349.1L351.6,350.3L359.9,356.4L361.6,358.4L362.6,360.4L363,362.4L363.1,364.4L362.9,366.4L362.3,368.4L360.4,371.4L356.6,375L355.6,376.4L355,378.4L355.1,379.4L355.6,380.5L356.6,381.5L357.6,382.1L359.6,382.7L362.2,382.4L366.6,380.9L368.6,380.7L369.6,380.9L371.6,381.8L375.6,385.2L378.6,386.4L381.6,386.4L383.6,385.5L385.6,383.8L388.6,380.4L390.6,378.8L392.6,377.7L395.6,377.2L397.6,377.4L399.6,378L406.7,381.4L414.6,384.5L416.6,384.9L418,384.4L418.8,383.4L418.6,382.4L416.1,380.4L415.7,379.4L415.7,378.4L416.6,376.2L417.6,375.2L419.2,374.4L421.6,374L432.6,373.3L438.6,371.8L440.6,371.6L443.6,372.3L449.6,375.5L451.6,376L452.6,376L454.6,375.5L456.6,374.4L458.8,372.4L461,369.4L461,368.4L460.2,367.4L458.9,366.4L455.2,364.4L449.6,362.1L447.6,361.7L445.6,361.8L440.6,364L439.6,364L438.6,363.8L437.6,363.1L436.3,361.4L435.4,358.4L435.4,355.4L436.9,349.4L436.6,347.4L435.6,346.2L434.6,345.9L432.6,346.1L426.6,349.4L423.6,350.2L420.6,350.3L418.6,350L416.6,349.3L410.6,345.9L407.6,344.6L404.6,344.1L398.6,343.9L396.6,343.4L394.6,342.3L393.6,341.1L390.2,334.4L387.4,324.4L384.3,316.4L383.6,315.1L382.6,314.4L381.6,314.3L380.6,314.8L378.2,316.4L376.6,316.8L375.6,316.8L372.6,316.1L368.4,314.4L362.8,311.4L358.6,308.4L354.2,304.4L349.1,298.4L343,289.4L337.1,278.4L331.3,265.4ZM439.6,303.4L437.6,305.4L436.6,307.3L436.3,308.4L435.7,313.4L433.9,320.4L434.1,322.4L434.5,323.4L435.3,324.4L437.6,326L447.6,331.1L451.6,333.7L455.6,337.3L460.6,343.7L464.6,346.7L467.6,347.7L470.6,347.6L473.6,346.5L476.6,344.6L477.6,343.4L483.4,334.4L489.4,323.4L491.4,319.4L492.3,316.4L492.6,313.4L491.9,310.4L490.6,308.3L489.6,307.3L487.9,306.4L476.4,302.4L474.6,302.2L468.6,302.5L465.6,302.4L462.6,301.9L456.6,300.3L453.6,300.3L444.6,301.4L441.6,302.2ZM340.6,393.5L339.6,392.6L337.6,391.7L334.6,391.4L332.6,391.6L328.6,392.5L325.6,394L322.4,397.4L317.1,400.4L316,401.4L314.4,403.4L313.3,405.4L312.9,407.4L312.9,409.4L313.8,411.4L314.7,412.4L316.6,413.4L318.6,413.8L321.6,413.7L324.6,413L327.6,411.8L335.6,407.6L338,405.4L338.6,404.2L339.6,401L340.9,398.4L341.4,396.4L341.4,395.4L341.2,394.4ZM453.6,435.4L452.4,436.4L451.3,438.4L451,440.4L451.6,442.5L452.6,443.6L453.6,444.1L454.6,444.2L456.6,444L458.6,443.3L459.7,442.4L460.3,441.4L460.6,440.4L460.5,438.4L460.1,437.4L459.5,436.4L457.6,435.1L455.6,434.7Z"/>
<path fill="#8ccb8e" fill-rule="evenodd" d="M350,250.4L533.6,250.4L533.6,420.1L528.6,420.9L521.6,420.6L519.6,420.7L517.5,421.4L516.3,422.4L515.8,423.4L515.4,425.4L515.6,427.4L518.9,437.4L520.1,443.4L520.4,447.4L520.2,450.4L519.2,456.4L310.4,456.4L308.1,453.4L306.3,450.4L304.8,447.4L303.4,443.4L302.9,440.4L302.8,437.4L303.2,434.4L304,432.4L306.1,429.4L309.6,426.7L323.6,419L333.7,412.4L339.3,409.4L342,407.4L343.3,405.4L343.8,403.4L344.1,400.4L344.1,396.4L343.1,393.4L341.7,391.4L340.6,390.4L338.6,389.2L336.6,388.5L334.6,388.2L332.6,388.2L329.6,388.7L326.6,389.7L323.6,391.2L319.6,393.9L312.6,396.4L308.6,398.6L304.1,402.4L294.6,412.5L291.6,414.8L289.6,415.7L287.6,416.3L285.6,416.5L282.6,416.3L279.6,415.7L276.6,414.5L276.6,383L280.1,381.4L283.1,380.4L286.6,379.6L290.6,379.1L294.6,379L297.6,379.3L305.6,381.4L307.6,381.2L309.6,380.5L312.6,378.2L316.6,373.9L323,364.4L326.6,360.3L330.3,357.4L336.6,353.1L339.6,351.7L342.6,351.2L344.6,351.2L346.6,351.6L350.6,353.3L353.6,355.4L356.1,357.4L357.6,358.9L358.6,360.4L359.6,363.4L359.4,366.4L357.8,369.4L353.5,374.4L352.6,376.4L352.4,378.4L353.3,381.4L354.6,383.4L356.6,385.3L357.6,385.9L359.6,386.5L363.6,386.6L367.6,386.1L369.6,386.1L376.6,388.5L379.6,388.9L381.6,388.8L383.6,388.2L385.6,387L387.3,385.4L389.9,382.4L391.6,380.9L393.6,380.1L395.6,379.9L397.6,380.1L399.6,380.7L414.6,386.1L416.6,386.2L418.6,385.4L419.5,384.4L420,383.4L420,382.4L419.7,381.4L418.6,380.4L418,379.4L418.4,378.4L419.6,377.4L421.6,376.7L424.6,376.2L432.6,375.6L437.6,374.9L440.6,374.8L442.6,375.2L444.6,376L449.6,379.1L451.6,379.6L454.6,379.6L457.6,378.7L464.6,375.6L472.6,373.7L474.6,372.4L475.3,371.4L475.7,370.4L475.6,369.4L475.2,368.4L473.7,366.4L468.6,362.2L465.6,360.5L463.6,360.1L457.6,360.4L454.6,360.2L443.6,358.3L441.6,357.5L440.7,356.4L440.3,354.4L440.3,347.4L439.9,344.4L439.4,343.4L438.6,342.6L437.6,342.1L435.6,341.9L432.6,342.4L430.6,343.2L424.6,346.4L422.6,347L419.6,347.3L417.6,347.1L415.6,346.4L409.6,343.2L406.6,341.9L403.6,341.5L397.6,341.6L395.6,340.9L394.6,339.4L393.3,333.4L392.9,329.4L392.7,322.4L392.5,321.4L388.6,318.4L387.4,316.4L385.6,312L384.6,310.8L382.6,309.6L380.6,309.3L376.6,309.8L375.6,309.7L373.6,308.9L371.6,307.6L368.6,304.9L365.5,301.4L362.6,297.4L359.8,292.4L357.9,288.4L355.9,283.4L353,273.4L351,262.4ZM393.4,311.4L392.7,312.4L392.6,313.4L393.6,319.4L394.6,320.2L396.6,320.1L398.6,319.3L399.8,318.4L400.3,317.4L400.1,316.4L399.1,314.4L397.6,312.4L395.6,311.1L394.6,311ZM454.6,292.1L451.6,293.5L446.3,297.4L440.6,300.4L438.6,302.1L437.6,303.3L436,306.4L434.2,313.4L431.6,319.4L431.2,321.4L431.5,323.4L432.6,325.4L433.6,326.4L439.1,330.4L443.6,334.6L445.6,335.7L451.6,337.8L454.6,339.8L456.6,341.8L461.6,347.8L464.6,350.6L466.6,351.4L468.6,351.2L470.6,350.5L473.6,349L477.6,346.4L479.9,344.4L484.3,339.4L490.6,329.6L496.4,322.4L498.5,319.4L499.5,317.4L500,315.4L500.2,313.4L499.8,311.4L498.5,308.4L497,306.4L495,304.4L491.6,302.1L489.6,301.5L482.6,301.6L475.6,300.3L470.6,300L467.6,299.5L465.6,298.8L463.6,297.4L460.1,293.4L458.6,292.3L456.6,291.8ZM456.6,433.5L454.6,433.7L452.6,434.7L450.9,436.4L449.5,439.4L449.3,441.4L449.6,443.4L450.6,445.3L451.6,446.2L452.6,446.8L453.6,447L455.6,446.8L459.6,445.5L461.1,444.4L462.3,442.4L462.5,441.4L462.5,439.4L461.8,437.4L460.3,435.4L459,434.4Z"/>
<path fill="#a4d284" fill-rule="evenodd" d="M370.9,250.4L533.6,250.4L533.6,318.1L522.6,318.9L519.6,318.7L517.6,318.3L515.6,317.2L514.6,316.2L509.7,310.4L506.8,307.4L502.9,304.4L499.5,302.4L495.3,300.4L490.6,298.6L483.6,299.3L480.6,299.3L471.6,298.2L468.7,297.4L466.6,296.2L464.8,294.4L461.6,288.6L459.6,286.4L457.6,285.4L454.6,285.2L451.6,286.1L448.6,288.2L443.6,294.4L439.6,298.4L437.6,300.9L435.6,304.6L434.1,310.4L433.2,312.4L429.5,318.4L428.5,320.4L428.1,322.4L428.2,323.4L428.9,325.4L430.6,327.7L434.6,330.5L436.3,332.4L437,334.4L436.9,335.4L436.4,336.4L435.3,337.4L430.6,339.5L424.6,343.4L421.6,344.4L418.6,344.9L416.6,344.6L414.6,343.8L407.6,339.1L405.6,338.1L403.6,337.7L399.6,338L398.6,337.8L398.1,337.4L397.6,336.4L397.4,331.4L397.8,328.4L398.5,326.4L399.2,325.4L400.6,324.1L402.6,322.9L404.6,322.4L409.6,322.2L411.6,321.5L413,320.4L413.4,319.4L413.3,318.4L411.9,316.4L410.7,315.4L409.6,314.8L407.6,314.4L404.6,314.7L403.6,314.6L401.6,313.5L398.6,310.7L396.6,309.3L394.6,308.5L390,307.4L388,306.4L380.8,301.4L378.6,299.6L376.5,297.4L374.4,294.4L372.4,290.4L370.6,285.4L369.5,280.4L368.7,274.4L368.5,268.4L368.8,262.4L369.6,256.4ZM533.6,354.8L533.6,417.3L530.6,418.3L527.6,418.9L518.6,419.2L516.6,419.9L515.7,420.4L514.6,421.6L514,423.4L513.8,426.4L514.5,429.4L516.7,437.4L517.2,440.4L517.5,444.4L517,450.4L516.3,453.4L515.3,456.4L322.8,456.4L320.4,453.4L318.1,449.4L317.1,446.4L316.7,444.4L316.5,441.4L316.7,439.4L317,437.4L318,434.4L319,432.4L320.9,429.4L325.2,424.4L332.8,417.4L336.6,414.6L345,410.4L346.6,409.2L347.7,407.4L348,405.4L347.7,400.4L347.1,397.4L346,394.4L344.6,391.8L343.6,390.3L341.6,388.1L339.6,386.7L337.6,385.6L333.6,384.2L331.6,384L328.6,384L322.6,385L321.1,384.4L320.6,383.4L320.8,381.4L325.4,369.4L327.5,365.4L329.2,363.4L335.5,357.4L337.6,355.7L339.6,354.7L341.6,354.2L343.6,354.2L345.6,354.5L347.6,355.1L350.1,356.4L352.6,358.1L354,359.4L355.6,361.4L356.4,363.4L356.6,364.4L356.3,366.4L355,368.4L351.4,372.4L350,374.4L349.4,376.4L349.9,379.4L351.1,382.4L354.3,387.4L355.6,389.9L356.6,390.5L360.6,390.9L361.9,391.4L365.6,393.8L366.6,393.7L370.6,391.5L372.6,391L380.6,391.4L382.6,391.2L384.6,390.6L386.6,389.6L388.2,388.4L392.5,383.4L393.6,382.8L394.6,382.6L396.6,382.6L399.6,383.2L409.6,385.7L413.6,387.1L415.6,387.5L417.6,387.1L419.6,385.7L421.1,383.4L422.2,380.4L422.6,379.8L423.6,379.1L425.6,378.4L438.6,377L441.6,377.2L444.6,378.2L447.6,380.4L449.6,381.4L452.6,382.3L454.6,382.4L456.6,382.1L458.6,381.4L466.6,377.9L472.9,376.4L475.6,375.4L477.2,374.4L479.4,372.4L480.1,371.4L480.5,370.4L480.4,369.4L479.2,367.4L473.7,362.4L471.4,359.4L470.6,357.4L470.6,356.4L471.3,354.4L473,352.4L475.7,350.4L486.7,343.4L488.2,341.4L492.1,334.4L493.6,332.6L495.6,330.6L497.6,329.1L500.6,327.3L503.6,326.1L505.6,325.5L508.6,325.2L510.6,325.6L511.6,326.3L512.4,327.4L513,329.4L513.1,332.4L512.4,336.4L511,340.4L508.6,345.4L507.7,348.4L507.9,350.4L508.6,353.4L509.6,355.4L510.6,356.1L511.6,356.5L514.6,356.7L527.6,355ZM456.6,432.5L455.6,432.4L453.6,432.9L451.6,434.1L450.6,435L449.5,436.4L448.4,438.4L447.6,441.4L447.6,444.4L448.6,447.6L449.6,449.2L450.6,450.3L451.6,451.1L453.6,451.9L454.6,452L456.6,451.7L458.6,450.9L460.6,449.6L462.6,447.7L463.5,446.4L464.5,443.4L464.5,441.4L464.2,439.4L462.8,436.4L461,434.4L459.6,433.5ZM446.6,341.5L448.6,340.6L450.6,340.6L451.6,340.8L453.6,341.8L455.6,343.5L457.9,346.4L460,350.4L460.3,352.4L460.2,353.4L459.9,354.4L459,355.4L456.6,356.7L454.6,357.1L452.6,357.2L449.6,356.8L447.6,356.2L446,355.4L444.7,354.4L444,353.4L443.4,351.4L443.2,349.4L443.3,347.4L444.3,344.4L445.6,342.5Z"/>
<path fill="#badb70" fill-rule="evenodd" d="M383.5,267.4L384.9,262.4L386.6,258.4L388.8,254.4L391.8,250.4L533.6,250.4L533.6,302.2L526.6,303L520.6,302.8L514.6,301.8L502.6,298.9L490.6,297L488.6,296.9L482.6,297.4L479.6,297.5L475.6,297.1L471.6,296.3L468.6,294.9L467.6,294.1L466.4,292.4L465.8,290.4L465.4,285.4L464.9,283.4L463.6,280.4L462.6,279L460.6,277.6L458.6,277L456.6,276.8L453.6,277.1L450.6,278L448.6,279.1L446.6,280.6L444.6,282.8L442.7,286.4L440.1,293.4L435.6,301.5L434.6,304.4L433.6,308.9L432.6,311.2L430.6,314L426.6,317.7L423.6,319.7L422.6,320.1L421.6,320L414.8,315.4L411.6,313.7L409.6,313.1L407.6,312.9L405.6,313L403.5,312.4L397.6,307.8L392.7,304.4L390.6,302.4L388.9,300.4L387,297.4L385.1,293.4L383.8,289.4L382.9,285.4L382.5,281.4L382.3,276.4L382.7,271.4ZM420.6,322.5L421.6,322.7L422.6,323.6L426.6,329.4L427.5,331.4L427.7,332.4L427.7,335.4L427.1,337.4L426.5,338.4L424.6,340.5L423.2,341.4L421.6,342.1L419.6,342.6L417.6,342.6L416.6,342.4L414.5,341.4L413.2,340.4L411.4,338.4L410.2,336.4L408.6,330.6L407.4,328.4L408.1,327.4L409.6,327.1L412.6,325.9L418.6,322.9ZM533.6,363.8L533.6,414.2L529.6,416.3L526.6,417.2L519.6,417.5L516.6,418.2L514.5,419.4L513,421.4L512.4,423.4L512.3,426.4L514.6,436.4L515,440.4L514.9,443.4L514.5,447.4L513.7,450.4L512.6,453.5L511.2,456.4L466.2,456.4L467.1,445.4L466.8,442.4L466,439.4L464.4,436.4L462.6,434.3L459.7,432.4L456.6,431.5L455.6,431.5L453.6,431.9L450.9,433.4L449.6,434.6L448.2,436.4L446.7,439.4L445.9,442.4L445.6,446.4L446.1,450.4L447.5,456.4L333,456.4L330.8,454.4L329,452.4L327.6,450.3L326.1,447.4L325,443.4L324.8,441.4L324.9,438.4L326.2,433.4L328.6,428.4L332.3,423.4L336.2,419.4L338.8,417.4L346.6,412.7L348.6,411.1L349.9,409.4L350.9,406.4L351.3,402.4L351.3,398.4L351,396.4L350.5,395.4L347.6,392.1L344.6,386.8L340.4,382.4L339.2,380.4L338.4,378.4L337.6,377.4L334.6,375.4L333.6,374.3L332.7,372.4L332.5,370.4L333.1,368.4L334.6,366.8L335.4,365.4L336.3,362.4L337.3,360.4L339.1,358.4L340.6,357.4L341.6,357.1L343.6,357.2L345.6,357.6L347.6,358.5L349.6,359.8L351.3,361.4L352.6,363.4L352.8,364.4L352.7,365.4L351.6,367.4L348.6,370.3L345.6,372.3L342.5,373.4L340.6,374.4L339.8,375.4L339.5,376.4L340.1,377.4L341.6,378L344.6,378.3L345.6,378.8L346.2,379.4L348.8,384.4L351.8,388.4L352.8,392.4L353.6,393.9L354.5,394.4L359.6,395.1L361.6,396.1L364.6,398.4L365.6,398.6L367.1,398.4L368.6,397.7L371.6,395.3L373.6,394.1L375.6,393.8L382.6,394.2L384.6,393.9L387.6,393.1L389.6,392L393.6,387.2L394.7,386.4L396.6,385.8L399.6,385.8L408.6,387L413.6,388.5L415.6,388.8L417.6,388.3L418.6,387.8L421.1,385.4L423.6,382L424.6,381.2L426.6,380.5L432.6,380.1L438.6,379.1L441.6,379.1L444.6,379.9L450.6,384L452.6,384.6L454.6,384.7L456.6,384.5L458.6,383.9L467.6,380L470.6,379.2L475.6,378.3L477.6,377.6L485.7,372.4L486.6,371.4L487.1,370.4L487.1,369.4L486.6,368.3L484.6,366.4L478.6,363L475.6,360.6L474.4,358.4L474.2,356.4L474.5,355.4L475.6,353.8L477,352.4L479.6,350.6L481.6,349.6L484.6,348.8L488.6,348.6L490.6,348.2L491.4,347.4L492.6,342.4L493.5,340.4L494.6,338.5L496.6,336.3L498,335.4L499.6,334.8L501.6,334.8L502.6,335.2L503.6,336L504.5,337.4L504.9,339.4L504.9,341.4L503.9,352.4L501.6,362.4L501.6,363.4L502,364.4L502.6,365L503.6,365.2L511.6,362.8L518.6,362L522.6,362L526.6,362.2L530.6,362.9ZM448.6,343.8L450.6,343.2L452.6,343.6L454.6,345L455.6,346.2L456.7,348.4L457,350.4L456.6,352.2L455.6,353.5L453.6,354.4L451.6,354.6L449.6,354.1L448.6,353.7L447,352.4L446,350.4L445.9,349.4L446.1,347.4L447,345.4Z"/>
<path fill="#d6e65c" fill-rule="evenodd" d="M471.5,256.4L472.6,254.8L473.6,253.9L476.6,252.5L480.6,251.9L489.6,251.9L491.1,251.4L492.5,250.4L533.6,250.4L533.6,288.7L527.6,291.2L520.6,292.8L514.6,293.5L502.6,294.1L493.6,295.6L486.6,295.2L478.6,295.7L473.6,294.9L470.6,293.8L469,292.4L468.5,291.4L468.3,290.4L468.4,289.4L469.5,286.4L470.1,278.4L471.9,271.4L471.7,266.4L470.7,260.4L470.8,258.4ZM413.6,255.5L417.6,255.2L421.6,255.6L425.6,256.6L429.6,258.4L432.7,260.4L435.8,263.4L437.8,266.4L438.7,269.4L439,271.4L439,274.4L437.9,290.4L437.2,293.4L434,302.4L432.8,308.4L431.6,310.6L428.6,313.6L426.6,314.8L423.6,315.7L420.6,315.4L411.6,311.9L409.6,311.5L405.6,311.1L403.6,310.2L398.9,306.4L396.1,303.4L394.4,300.4L393.6,297.4L392.8,287.4L392.8,280.4L393.8,274.4L395.6,269.4L397.2,266.4L398.6,264.5L400.6,262.2L402.6,260.4L404.6,258.9L407.6,257.3L410.6,256.2ZM417.6,329.3L419.6,329.4L421.6,330.4L423.3,332.4L424,334.4L424,336.4L423,338.4L421.6,339.6L419.6,340.4L417.6,340.3L415.8,339.4L414.8,338.4L413.9,336.4L413.8,334.4L414.6,332L415.8,330.4ZM500.3,344.4L501,346.4L501.1,348.4L501,350.4L500.5,352.4L498.1,358.4L496.6,361.2L494.6,364.3L493.6,365L492.6,365.2L490.6,364.7L486.6,362.8L480.6,360.4L478.9,359.4L477.9,358.4L477.6,357.4L477.9,356.4L478.6,355.2L480.6,353.4L482.6,352.5L483.6,352.3L488.6,352.6L490.6,352.2L491.6,351.7L492.6,350.8L493.4,349.4L494.6,346.1L495.6,344.5L496.6,343.6L497.6,343L498.6,342.9L499.6,343.4ZM449.6,346.4L450.6,345.8L451.6,345.7L452.6,346L453.6,346.9L454.2,348.4L454.3,349.4L453.6,350.8L452.6,351.5L451.6,351.7L450.6,351.5L449.6,350.8L448.7,349.4L448.6,348.4L448.9,347.4ZM340.4,363.4L341.6,362.1L342.6,361.6L343.6,361.6L344.6,361.9L345.5,362.4L346.3,363.4L346.7,364.4L346.5,365.4L345.9,366.4L344.6,367.4L342.6,368L341.6,367.8L340.6,367.2L340.1,366.4L339.9,365.4ZM533.6,371.6L533.6,410.1L531.1,412.4L527.6,414.7L524.6,415.6L519.6,416L516.6,416.6L514.6,417.6L513.6,418.4L512,420.4L511.2,422.4L510.8,425.4L511.1,428.4L512.3,433.4L512.7,436.4L512.8,440.4L512.5,443.4L511.6,447.1L510.4,450.4L508.6,453.6L506.5,456.4L474.2,456.4L472.2,452.4L468.8,441.4L467.4,438.4L466.1,436.4L464.4,434.4L461.9,432.4L459.6,431.3L456.6,430.7L453.6,431L450.6,432.4L448.4,434.4L446.3,437.4L444.9,440.4L443.7,444.4L443.1,448.4L442.4,456.4L384.2,456.4L382.6,454.6L381.6,453.8L379.6,453.2L376.6,453.8L369.2,456.4L343.4,456.4L339.8,454.4L336.6,451.8L333.9,448.4L332.4,445.4L331.3,441.4L331.2,437.4L332,433.4L334,428.4L336.6,424.4L339.2,421.4L341.5,419.4L348.6,414.2L351.3,411.4L352.9,408.4L355,401.4L356.4,399.4L357.6,398.7L359.6,398.4L363.6,399.8L367.6,400.4L370.6,400L372,399.4L374.6,397.6L375.6,397.3L385.6,398.1L388.6,398L390.6,397.3L392.6,395.8L394.9,391.4L395.7,390.4L397.6,389.1L400.6,388.5L408.6,388.6L410.6,388.9L413.6,390.2L415.6,390.2L417.6,389.6L419.5,388.4L423.6,384.3L425.6,383.1L426.6,382.9L431.6,383.1L439.6,381L442.6,380.9L444.6,381.4L446.2,382.4L448.6,385L449.6,385.8L451.1,386.4L453.6,386.8L457.6,386.4L460.6,385.4L465.6,382.9L469.6,381.5L472.6,381.1L476.6,381.4L478.6,381.3L479.6,380.8L483.2,377.4L484.6,376.5L492.6,373.6L498.6,369.9L511.6,366.6L514.6,366.3L517.6,366.3L523.6,367.2L528.6,368.8L531.6,370.3Z"/>
<path fill="#fcf945" fill-rule="evenodd" d="M531.6,255.4L533.1,258.4L533.6,260.6L533.6,265.4L532.5,269.4L530.4,273.4L528,276.4L524.7,279.4L521.8,281.4L518,283.4L513.6,285.1L499.6,288.8L496.6,289.8L494.6,290.9L492.7,293.4L491.6,293.7L488.6,293.1L486.6,292.9L479.6,293.6L477.6,293.6L473.6,292.6L471.5,291.4L471,290.4L471.2,289.4L473.6,281.9L474.6,279.5L476.8,276.4L478.6,274.9L481.6,272.9L483,271.4L483.5,270.4L484,268.4L483.5,263.4L483.7,262.4L485.1,260.4L487.6,258.5L492.6,256.8L498.6,253.1L504.9,250.4L526.1,250.4L529.1,252.4ZM411.6,267.5L414.6,266.8L418.6,266.9L421.6,267.8L424.6,269.3L427.2,271.4L429.6,274.3L432.6,279.1L434,282.4L435,287.4L435,291.4L434.6,294.4L432.9,301.4L431.9,307.4L431.5,308.4L430.8,309.4L429.6,310.7L427.6,312.1L425.6,312.9L423.6,313.3L420.6,313.1L411.6,310.3L406.6,309L404.6,308.1L402.2,306.4L400.6,304.9L399.8,303.4L399.3,300.4L400,294.4L400,285.4L400.4,281.4L401.2,278.4L403.1,274.4L405.4,271.4L408.6,268.9ZM418.6,335.4L419.7,335.4L420.1,336.4L419.6,337.4L418.6,337.4L418,336.4ZM533.6,381.8L533.6,402.4L530.3,408.4L528.7,410.4L526.6,412.2L524.2,413.4L518.6,414.5L515.6,415.4L513.9,416.4L512.7,417.4L511.1,419.4L509.8,422.4L509.4,425.4L509.6,428.4L510.7,433.4L510.8,436.4L510.5,440.4L509.6,444.2L507.8,448.4L505.6,451.6L502.6,454.5L499.7,456.4L483,456.4L479.6,454L476.6,450.5L470,439.4L466.2,434.4L463.9,432.4L462.2,431.4L459.6,430.4L456.6,429.9L453.6,430.1L450.6,431.3L448.1,433.4L445.7,436.4L443.9,439.4L442.1,443.4L438.2,456.4L387.7,456.4L383.6,450.9L382.6,450.1L381.6,449.7L380.6,449.6L377.6,450.3L368.6,453.5L363.6,454.7L358.6,455.3L353.6,455L350.6,454.4L347.6,453.3L344.6,451.7L342.7,450.4L340.6,448.4L339.1,446.4L338,444.4L337.2,442.4L336.6,439.4L336.6,435.4L337.5,431.4L339.2,427.4L341.2,424.4L342.9,422.4L349.6,416.2L353.2,412.4L354.7,410.4L356.2,406.4L357.6,403.9L359.2,402.4L360.6,401.8L364.6,401.8L369.6,402.8L372.6,403L378.6,401.5L386.6,401.5L388.6,401.2L390.6,400.4L394.6,397.5L397.1,393.4L398.2,392.4L399.6,391.7L402.6,391.2L409,391.4L409.6,391.7L410.6,393.5L411.6,393.5L415.6,392L418.6,390.5L420.6,389.1L422.6,387.2L424.6,386.1L425.6,386L426.3,386.4L427.6,389L428.6,389.4L432.8,386.4L435.6,384.8L438.6,383.5L441.6,382.8L443.6,382.8L444.6,383.1L445.6,384.1L447.1,386.4L448.6,387.6L450.6,388.4L453.6,388.7L456.6,388.4L459.6,387.8L467.6,384.2L470.6,383.4L472.6,383.5L474.5,384.4L475.6,385.4L477.6,388.7L478.3,389.4L479.6,389.7L480.6,389.4L481.6,388.8L483,387.4L485.6,381.8L487,380.4L488.6,379.8L496.6,378.2L498,377.4L501.6,373.5L503,372.4L507.6,370.6L510.6,369.9L513.6,369.8L517.6,370.4L521.1,371.4L524.6,373L526.9,374.4L529.6,376.6L532.1,379.4Z"/>
<path fill="#fdd535" fill-rule="evenodd" d="M512.4,263.4L513,264.4L513.6,266.4L513.6,268.4L513,270.4L511.1,273.4L507.7,276.4L504.3,278.4L494.6,282.9L491.6,285.1L488.6,287.9L486.6,289L482.6,289.9L479.6,290.3L477.6,290.1L476.2,289.4L475.6,288.4L475.7,287.4L476.6,284.9L478.6,281.2L480,279.4L481.1,278.4L486.2,275.4L488.6,273.4L490,271.4L491,269.4L493,263.4L493.7,262.4L494.9,261.4L496.6,260.4L498.6,259.8L501.6,259.4L504.6,259.5L507.6,260.1L509.6,261L511.6,262.4ZM413.6,274.6L415.6,274.2L418.6,274.2L421.6,275.1L423.6,276.2L425.6,277.8L429.6,282L431.1,284.4L431.9,286.4L432.6,289.4L432.6,293.4L430.6,306.4L429.6,308.4L428.6,309.3L425.6,310.9L422.6,311.3L419.6,310.9L416.6,310.2L408.7,307.4L406.9,306.4L405.7,305.4L404.4,303.4L404.2,301.4L404.8,297.4L404.6,289.4L404.8,286.4L405.5,283.4L406.8,280.4L408.6,277.8L410.6,276.1ZM529.2,388.4L529.8,392.4L529.4,397.4L528.2,402.4L526.2,407.4L524.8,409.4L523.6,410.5L521.6,411.6L514.6,414.2L512.6,415.5L510.2,418.4L508.7,421.4L508,424.4L508,428.4L508.8,433.4L508.8,435.4L508.3,439.4L507.3,442.4L505.6,445.8L502.6,449.3L499.6,451.4L496.6,452.7L493.6,453.3L489.6,453.1L486.6,452.3L483.6,450.8L481.6,449.3L478.6,446.6L469.9,436.4L465.8,432.4L463.6,430.9L461.6,430.1L459,429.4L456.6,429.1L453.6,429.3L450.6,430.3L448.6,431.6L445.9,434.4L443.1,438.4L440.7,442.4L435.8,453.4L434.2,456.4L390.6,456.4L384.6,448.9L383.6,448L381.6,447.4L379.6,447.5L377.6,447.9L368.6,450.8L364.6,451.7L359.6,452.1L355.6,451.7L352.6,451L350.6,450.2L348.6,449.2L346.6,447.8L345.1,446.4L343.5,444.4L342.4,442.4L341.7,440.4L341.1,437.4L341.3,433.4L342.5,429.4L344,426.4L346.9,422.4L355.7,412.4L359.6,406.6L361,405.4L362.6,404.7L363.6,404.4L365.6,404.4L370.6,405.3L372.6,405.4L378.6,404.5L385.6,404.1L388.6,403.6L390.6,402.7L391.6,402L398.6,395.3L400.6,394.3L401.6,394.1L403.6,394.1L405.6,394.8L408.3,396.4L409.6,396.9L411.6,396.8L412.6,396.4L418,392.4L422.6,389.8L423.6,389.7L424.6,389.9L427.6,391.4L428.8,391.4L431.3,390.4L436.6,387L438.6,386.1L440.6,385.5L442.6,385.6L443.6,386L446.2,388.4L448.6,389.7L450.6,390.2L452.6,390.4L455.6,390.3L458.6,389.7L461.6,388.8L467.6,386.2L469.6,385.8L471.6,385.9L473.6,387L476.5,390.4L477.6,391.3L479.6,391.9L481.6,391.7L482.6,391.4L484.6,390.2L490.6,384.4L492.6,383.3L499.6,380.6L501.4,379.4L506.6,374.9L508.6,373.8L510.6,373.3L513.6,373.7L516.6,374.7L519.8,376.4L522.6,378.4L524.7,380.4L526.6,382.8L528.1,385.4Z"/>
<path fill="#fdba34" fill-rule="evenodd" d="M415.6,279.5L417.6,279.2L419.6,279.4L421.6,279.9L423.6,280.9L425.6,282.3L427.6,284.3L429,286.4L429.8,288.4L430.5,291.4L430.6,294.4L429.6,303.4L428.6,306.4L427.6,307.6L425.6,308.7L423.6,309.2L420.6,309.2L417.6,308.7L414.6,307.9L411.6,306.6L409.7,305.4L408.6,304.3L407.6,302.4L407.3,300.4L407.4,293.4L407.9,289.4L408.6,286.7L409.6,284.4L411.6,281.8L413.6,280.3ZM523.4,391.4L523.8,394.4L523.8,397.4L522.4,405.4L521.8,407.4L521.2,408.4L519.6,409.8L514.6,412.2L512.6,413.4L510.6,415.4L509.2,417.4L507.7,420.4L506.5,424.4L506.2,428.4L506.5,434.4L506.1,437.4L505.5,439.4L503.9,442.4L501.6,445L499.6,446.5L496.6,447.8L494.6,448.2L491.6,448.3L488.6,447.7L485.6,446.6L482.6,444.8L479.6,442.6L467.9,432.4L465.6,430.7L463.6,429.7L461.6,429.1L456.6,428.3L453.6,428.4L450.6,429.3L448.6,430.4L446.3,432.4L443,436.4L439.3,441.4L432.6,452.8L430.1,456.4L393.6,456.4L385.4,447.4L383.6,446.1L381.6,445.6L379.6,445.6L377.6,445.9L369.6,448.1L365.6,448.9L361.6,449.2L357.6,448.8L353.6,447.6L350,445.4L347.3,442.4L346.3,440.4L345.6,438.4L345.2,435.4L345.5,432.4L346.4,429.4L347.8,426.4L349.7,423.4L355.6,415.4L359.6,410.9L361.6,409L363.6,407.9L365.6,407.5L373.6,407.6L385.6,406.4L388.6,405.7L391.6,404.2L395.9,399.4L398.6,397.4L400.6,396.5L401.6,396.3L403.6,396.5L408.6,398.1L411.6,398.3L414,397.4L418.6,393.7L421.6,391.9L423.6,391.6L427.6,392.4L429.6,392.4L432.6,391.4L437.6,388.9L440.6,388.2L442.6,388.5L448.6,391.5L452.6,392L455.6,391.9L458.6,391.4L461.6,390.5L467.6,388.2L470.6,387.9L472.6,388.7L476.6,392.4L477.6,393L479.6,393.6L481.6,393.7L483.6,393.3L485.6,392.4L487.6,391.2L492.6,387.3L495.6,385.6L501.7,383.4L507.6,380.9L510.6,380.2L512.6,380.4L514.6,381.1L516.6,382.2L518.6,383.7L520.3,385.4L521.6,387.2L522.7,389.4Z"/>
<path fill="#fea42a" fill-rule="evenodd" d="M416.6,283.6L419.6,283.3L421.6,283.7L423.6,284.6L425.8,286.4L427.1,288.4L427.9,290.4L428.4,292.4L428.6,295.4L428.4,299.4L427.9,302.4L427.2,304.4L426.6,305.4L425.3,306.4L423.6,307.1L421.6,307.4L418.6,307.2L414.6,306.1L411.6,304.2L410.6,303L409.8,301.4L409.4,298.4L409.5,295.4L410,292.4L410.9,289.4L411.9,287.4L413.6,285.4L414.9,284.4ZM518.1,395.4L518.5,398.4L518.5,404.4L518.1,406.4L517.7,407.4L516.7,408.4L513.6,410.1L511.6,411.7L510.1,413.4L508.6,415.5L506.5,419.4L505,423.4L504.2,427.4L503.6,434.4L502.6,437.8L501.6,439.4L499.6,441.3L497.6,442.4L495.6,443.1L493.6,443.4L490.6,443.2L487.6,442.4L484.6,441.2L475.6,436.2L471.6,433.5L467.5,430.4L464.6,428.9L461.6,428.1L455.6,427.5L452.6,427.7L450.6,428.2L448.6,429.2L445.6,431.7L437.1,441.4L428.6,453.1L425.3,456.4L397.1,456.4L392.6,452.7L386.6,446.4L385.5,445.4L383.6,444.3L381.6,443.8L379.6,443.8L366.6,446.3L362.6,446.5L359.6,446.2L356.6,445.3L353.4,443.4L351.6,441.7L350.7,440.4L349.4,437.4L349,435.4L349.1,432.4L349.6,430.4L350.7,427.4L354.1,421.4L357.4,416.4L359.6,414.2L361.6,412.6L363.6,411.4L366.6,410.5L384.6,408.7L387.6,408.1L389.6,407.5L391.6,406.5L393,405.4L393.8,404.4L395.6,401.4L396.6,400.2L398.6,398.9L400.6,398.3L403.6,398.3L409.6,399.6L412.6,399.4L415.1,398.4L419.6,394.5L422.6,393L424.6,392.9L428.6,393.4L430.6,393.3L433.6,392.4L437.6,390.8L440.6,390.3L443.6,391L448.6,393.2L452.6,393.6L458.6,392.9L461.6,392.2L467.6,390.1L470.6,389.8L472.6,390.6L475.6,393.3L477.6,394.6L479.6,395.3L482.6,395.4L484.6,395L487.6,393.9L495.6,389.2L497.6,388.2L501.6,387.4L505.6,387.1L509.6,387.5L511.6,388.1L513.6,389.1L515.3,390.4L516.6,391.9L517.5,393.4Z"/>
<path fill="#fe8c23" fill-rule="evenodd" d="M417.6,287.2L418.6,287L420.6,287L422.6,287.8L424.6,289.7L425.6,291.4L426.3,293.4L426.6,295.4L426.6,298.4L426.4,300.4L425.7,302.4L425.1,303.4L424.1,304.4L421.6,305.4L419.6,305.5L417.6,305.3L414.6,304.1L412.6,302.2L412.1,301.4L411.5,299.4L411.4,297.4L411.6,295.4L412.1,293.4L412.9,291.4L414.6,289L415.6,288.2ZM511.4,400.4L511.9,403.4L511.8,405.4L511.5,406.4L504,421.4L499.9,433.4L498.6,435.4L496.6,437L494.6,437.7L491.6,437.9L488.6,437.5L478.6,434.5L474.6,433L471.6,431.4L467.6,428.7L464.1,427.4L461.6,427L454.6,426.7L450.6,427.2L447.9,428.4L445.6,430.2L440.6,435.6L434.3,441.4L425.6,451.7L422.6,454.3L419.1,456.4L401.9,456.4L398.6,454.7L395.6,452.6L390.6,448.3L386.6,444.2L384.6,442.8L382.6,442L380.6,441.7L378.6,441.9L366.6,444L363.6,444L360.2,443.4L357.6,442.3L355.1,440.4L353.7,438.4L352.6,435.4L352.4,433.4L352.6,431.4L353.1,429.4L354.4,426.4L356.6,422.1L358.6,419L360.6,416.8L362.6,415.3L364.6,414.3L367.6,413.4L384.6,410.9L389.6,409.7L392.6,408.1L394.6,406.4L395.3,405.4L397.2,401.4L398.6,400.4L401.6,399.8L409.6,400.7L413.7,400.4L416,399.4L420.6,395.3L422.3,394.4L423.6,394L429.6,394.4L431.6,394.2L438.6,392.3L440.6,392L443.6,392.6L448.6,394.6L451.6,395L454.6,395L459.6,394.4L467.6,392.1L470.6,391.8L472.2,392.4L475.6,395.2L477.6,396.3L479.6,397L482.6,397.2L484.6,397L487.6,396.3L497.6,392.6L499.6,392.3L501.6,392.3L503.6,392.7L505.6,393.4L508.6,395.3L510.3,397.4Z"/>
<path fill="#fe731e" fill-rule="evenodd" d="M417.6,291L419.6,290.6L421.6,291.3L422.6,292.2L423.5,293.4L424.2,295.4L424.5,298.4L424,300.4L423.5,301.4L422.6,302.4L420.6,303.4L418.6,303.5L417.6,303.3L415.6,302.4L414.6,301.4L413.6,299.4L413.6,296.4L414.3,294.4L415.6,292.4ZM506.5,406.4L506.7,408.4L506.5,410.4L505.7,413.4L504.5,416.4L498.6,427.5L496.6,430L494.6,431.3L492.6,431.9L490.6,432L484.6,431.3L476.6,430.8L473.6,430L467.6,426.8L464.6,426L453.6,425.8L451.6,425.9L449.6,426.3L446.6,427.9L444.6,429.6L440.6,433.9L432.9,439.4L424.6,448.3L421.6,450.9L417.6,453.4L415,454.4L412.6,454.9L409.6,455.2L405.6,454.8L402.6,453.9L399.6,452.5L396.6,450.7L393.6,448.5L390.6,445.9L386.6,441.6L383.6,439.8L381.6,439.1L379.6,439L368.6,441.4L365.6,441.6L363.6,441.4L360.6,440.5L358.6,439.2L357,437.4L355.7,434.4L355.5,432.4L355.8,430.4L357.2,426.4L358.6,423.8L360.3,421.4L361.6,420L363.6,418.5L365.6,417.5L367.6,416.9L374.6,415.9L380.6,414.2L389.6,411.9L392.6,410.4L394.6,408.8L396.5,406.4L398,403.4L398.6,402.6L399.6,402L402.6,401.4L409.6,401.9L414.7,401.4L416.6,400.6L421,396.4L423.6,395.1L425.6,394.9L431.6,395.3L433.6,395L438.6,393.8L441.6,393.6L443.6,393.9L449.6,396.1L452.6,396.6L454.6,396.6L461.6,395.8L467.6,394.4L469.6,394.2L471.6,394.7L475.6,397.3L477.6,398.2L479.6,398.8L482.6,399.1L486.6,398.8L494.6,397.1L496.6,396.9L498.6,397.1L500.6,397.7L503,399.4L504.6,401.8Z"/>
<path fill="#fd5316" fill-rule="evenodd" d="M418.6,294.9L419.6,294.9L420.6,295.5L421.5,297.4L421.5,298.4L421.2,299.4L420.5,300.4L419.6,300.9L418.6,301L417.6,300.8L416.9,300.4L416.2,299.4L416,298.4L416.1,297.4L416.6,296.2L417.6,295.2ZM503.6,408.5L503.8,410.4L503.7,412.4L503.2,414.4L501.9,417.4L498.6,422.4L496.6,424.5L494.6,425.9L492.6,426.6L490.6,426.7L484.6,426.1L479.6,427.1L476.6,427.4L473.6,426.9L468.6,424.9L465.6,424.3L458.6,425.1L451.6,424.7L448.6,425.3L446.6,426.3L445.1,427.4L439.6,433.1L437.6,434.2L433.6,435.5L431.6,436.7L429.6,438.4L422.6,445.7L419.6,448.2L415.6,450.5L411.6,451.7L408.6,452L404.6,451.6L401.6,450.7L398.6,449.2L393.3,445.4L388.6,440.2L386.6,438.3L379.6,433.2L378.6,433.1L374.9,436.4L372.6,437.7L369.6,438.7L366.6,439L363.6,438.6L361.3,437.4L359.6,435.6L358.7,433.4L358.6,430.4L359.6,427.3L361.6,424.3L364.6,421.8L366.6,421L368.6,420.7L370.6,421L371.7,421.4L373.6,422.9L375.6,426.8L376.6,428.1L377.6,429L378.6,429.1L379.6,427.7L379.9,426.4L379.7,424.4L378.8,421.4L378.9,420.4L379.2,419.4L379.9,418.4L381.1,417.4L383.6,416.2L390.6,414.1L393.6,412.4L395.6,410.6L399,405.4L400.6,403.9L402.6,403.2L410.6,403L415.6,402.4L417.7,401.4L421.6,397.5L422.6,396.7L424.6,395.9L432.6,396.4L439.6,395.2L442.6,395L444.6,395.4L450.6,397.9L452.6,398.3L464.6,397.8L469.6,397.3L471.6,397.7L477.6,400.3L480.6,401.1L484.6,401.2L492.6,400.4L495.6,400.6L498.6,401.5L500.6,403L502.4,405.4Z"/>
<path fill="#fc3214" fill-rule="evenodd" d="M383.3,422.4L383.2,421.4L383.6,420.5L384.6,419.7L391.6,417L393.6,416L395.6,414.4L397.2,412.4L399.6,407.9L400.6,406.6L401.6,405.9L402.6,405.4L404.6,404.9L415.6,403.7L417.6,403.2L419.6,401.8L422.6,398.2L423.7,397.4L425.6,396.8L430.6,397.7L433.6,397.8L441.6,396.5L444.6,396.6L446.6,397.4L449.6,399.5L451.6,400.3L453.6,400.5L459.6,400.1L461.8,400.4L463.6,401.4L465.6,403.6L466.6,403.2L467.2,402.4L468.5,401.4L470.6,400.9L472.6,401.2L477.6,403L480.6,403.5L483.6,403.6L490.6,403.4L493.6,403.6L496.6,404.6L498.6,406L500.3,408.4L501.1,411.4L501,413.4L500.6,414.8L499.9,416.4L498.6,418.3L495.6,421.1L492.6,422.4L490.6,422.7L483.6,422.5L477.6,423.4L475.6,423.5L472.6,423L466.6,421.5L465.6,421.6L461.2,423.4L458.6,424L451.6,423.4L449.6,423.5L447.6,424L444.6,425.7L442.8,427.4L440.4,430.4L438.6,431.9L437.6,432.3L436.6,432.3L433.6,431.5L432.6,431.6L430.8,432.4L428.6,434.1L421.6,441.5L417.6,445L415.6,446.3L413.3,447.4L410.6,448.3L408.6,448.6L404.6,448.4L401.6,447.6L398.6,445.9L395.5,443.4L386.1,432.4L384.8,429.4ZM365.6,424.9L367.6,424.4L369.6,424.9L370.6,425.6L371.6,426.8L372.8,429.4L373,431.4L372.3,433.4L370.6,435.1L368.6,436L366.6,436.1L364.1,435.4L362.6,434.2L361.7,432.4L361.5,430.4L362.1,428.4L363.6,426.2Z"/>
<path fill="#fb0c0e" fill-rule="evenodd" d="M389.9,428.4L389.8,426.4L390,425.4L390.6,424.1L392.6,422.4L396.6,420L398.5,418.4L399.2,417.4L400.1,415.4L401.3,410.4L401.8,409.4L402.7,408.4L404.6,407.4L411.6,405.5L418.6,405.1L419.6,404.6L420.6,403.7L423.6,399.3L424.6,398.5L425.6,398.2L431.6,399.4L434.6,399.7L437.6,399.3L442.6,398.2L444.6,398.2L445.6,398.7L446.2,399.4L447.6,402.4L448.6,403.4L449.6,403.7L451.6,403.9L457.6,403.1L459.6,403.1L460.6,403.8L462.6,408.3L465.6,413.5L466.6,414L470,410.4L470.5,409.4L470.6,406.4L471.6,406L473.6,406.8L475.6,407.2L487.6,406.6L490.6,406.7L492.6,407.1L494.6,407.8L496.6,409.3L497.6,410.9L498,412.4L497.6,414.4L496,416.4L493.6,418L491.6,418.6L487.6,418.8L472.6,418.2L469.9,417.4L467.6,415.6L467.1,415.4L466.6,414.8L465.6,415.5L461.8,420.4L460.7,421.4L458.6,422.6L456.6,422.6L452.6,421.7L450.6,421.5L448.6,421.5L446.6,421.9L444.6,422.8L442.6,424.3L438.6,429.1L437.6,429.6L436.6,429.2L434.6,428L432.6,427.3L430.6,427.2L428.6,427.5L426.7,428.4L425.3,429.4L422.4,433.4L415.6,440.4L413.6,441.8L411.6,442.9L407.6,444.1L405.6,444.3L403.6,444.1L402,443.4L400.7,442.4L398.5,439.4L395.6,434.1L390.7,430.4ZM366.6,428.4L368,428.4L369,429.4L369.1,430.4L368.8,431.4L367.6,432.2L366.6,432.1L365.6,431.4L365.3,430.4L365.5,429.4Z"/>
<path fill="#fff" fill-rule="evenodd" d="M276,249.8H534.2V457H276ZM493.6,252.2L497.5,297.1L485.8,308.1L489.8,313.4L482.5,318.5L452.6,296.4L447.2,299.1L485.8,332.9L500.2,325.6L531.4,420.8L506.2,437.9L461.4,450.3L442.4,433.9L418.8,448.7L378.6,451.9L297.1,384.1L320.6,343.4L457.6,260.4L467,267Z"/>
</g>
<rect x="15.3" y="16.3" width="257.9" height="231.2" fill="none" stroke="#2b2b2b" stroke-width="1.2"/>
<rect x="15.3" y="250.4" width="257.9" height="231.2" fill="none" stroke="#2b2b2b" stroke-width="1.2"/>
<rect x="276.1" y="16.3" width="257.9" height="231.2" fill="none" stroke="#2b2b2b" stroke-width="1.2"/>
<rect x="276.1" y="250.4" width="257.9" height="231.2" fill="none" stroke="#2b2b2b" stroke-width="1.2"/>
<path d="M56.5,12.8V16.3M130.0,12.8V16.3M203.8,12.8V16.3M55.2,481.6V485M128.9,481.6V485M202.7,481.6V485M316.5,12.8V16.3M390.7,12.8V16.3M464.5,12.8V16.3M316.2,481.6V485M390.0,481.6V485M463.8,481.6V485M11.8,60.5H15.3M534,60.5H537.4M11.8,137.0H15.3M534,137.0H537.4M11.8,214.5H15.3M534,214.5H537.4M11.8,293.9H15.3M534,293.9H537.4M11.8,370.4H15.3M534,370.4H537.4M11.8,447.9H15.3M534,447.9H537.4" stroke="#1a1a1a" stroke-width="1" fill="none"/>
<g font-size="6" fill="#3a3a3a" text-anchor="middle">
<text x="58.0" y="9.7" textLength="23" lengthAdjust="spacingAndGlyphs">84°51'0&quot;E</text>
<text x="131.5" y="9.7" textLength="23" lengthAdjust="spacingAndGlyphs">84°54'0&quot;E</text>
<text x="205.3" y="9.7" textLength="23" lengthAdjust="spacingAndGlyphs">84°57'0&quot;E</text>
<text x="56.5" y="493.5" textLength="23" lengthAdjust="spacingAndGlyphs">84°51'0&quot;E</text>
<text x="130.2" y="493.5" textLength="23" lengthAdjust="spacingAndGlyphs">84°54'0&quot;E</text>
<text x="204.0" y="493.5" textLength="23" lengthAdjust="spacingAndGlyphs">84°57'0&quot;E</text>
<text x="318.0" y="9.7" textLength="23" lengthAdjust="spacingAndGlyphs">84°51'0&quot;E</text>
<text x="392.2" y="9.7" textLength="23" lengthAdjust="spacingAndGlyphs">84°54'0&quot;E</text>
<text x="466.0" y="9.7" textLength="23" lengthAdjust="spacingAndGlyphs">84°57'0&quot;E</text>
<text x="317.5" y="493.5" textLength="23" lengthAdjust="spacingAndGlyphs">84°51'0&quot;E</text>
<text x="391.3" y="493.5" textLength="23" lengthAdjust="spacingAndGlyphs">84°54'0&quot;E</text>
<text x="465.1" y="493.5" textLength="23" lengthAdjust="spacingAndGlyphs">84°57'0&quot;E</text>
<text transform="translate(8.5,58.7) rotate(-90)" textLength="25.8" lengthAdjust="spacingAndGlyphs">45°28'50&quot;N</text>
<text transform="translate(545.4,58.7) rotate(-90)" textLength="25.8" lengthAdjust="spacingAndGlyphs">45°28'50&quot;N</text>
<text transform="translate(8.5,135.2) rotate(-90)" textLength="25.8" lengthAdjust="spacingAndGlyphs">45°25'40&quot;N</text>
<text transform="translate(545.4,135.2) rotate(-90)" textLength="25.8" lengthAdjust="spacingAndGlyphs">45°25'40&quot;N</text>
<text transform="translate(8.5,212.7) rotate(-90)" textLength="25.8" lengthAdjust="spacingAndGlyphs">45°22'30&quot;N</text>
<text transform="translate(545.4,212.7) rotate(-90)" textLength="25.8" lengthAdjust="spacingAndGlyphs">45°22'30&quot;N</text>
<text transform="translate(8.5,292.1) rotate(-90)" textLength="25.8" lengthAdjust="spacingAndGlyphs">45°28'50&quot;N</text>
<text transform="translate(545.4,292.1) rotate(-90)" textLength="25.8" lengthAdjust="spacingAndGlyphs">45°28'50&quot;N</text>
<text transform="translate(8.5,368.6) rotate(-90)" textLength="25.8" lengthAdjust="spacingAndGlyphs">45°25'40&quot;N</text>
<text transform="translate(545.4,368.6) rotate(-90)" textLength="25.8" lengthAdjust="spacingAndGlyphs">45°25'40&quot;N</text>
<text transform="translate(8.5,446.1) rotate(-90)" textLength="25.8" lengthAdjust="spacingAndGlyphs">45°22'30&quot;N</text>
<text transform="translate(545.4,446.1) rotate(-90)" textLength="25.8" lengthAdjust="spacingAndGlyphs">45°22'30&quot;N</text>
</g>
<g font-size="11.6" fill="#222">
<text x="33.4" y="38.8" textLength="20.8" lengthAdjust="spacingAndGlyphs">1996</text>
<text x="294.0" y="38.8" textLength="20.8" lengthAdjust="spacingAndGlyphs">2006</text>
<text x="34.2" y="273.8" textLength="20.8" lengthAdjust="spacingAndGlyphs">2016</text>
<text x="295.0" y="273.8" textLength="20.8" lengthAdjust="spacingAndGlyphs">2021</text>
</g>
<text x="279.8" y="442.4" font-size="6.3" font-weight="bold" fill="#111" textLength="23.6" lengthAdjust="spacingAndGlyphs">Salt (g/kg)</text>
<g font-size="4.1" fill="#8a8a8a">
<rect x="280.1" y="445.0" width="10.4" height="5" fill="#0c90d2"/>
<text x="293.0" y="448.9" textLength="7.1" lengthAdjust="spacing">&lt;1.0</text>
<rect x="280.1" y="452.0" width="10.4" height="5" fill="#18a4c8"/>
<text x="293.0" y="455.9" textLength="12.5" lengthAdjust="spacing">1.0-1.2</text>
<rect x="280.1" y="459.0" width="10.4" height="5" fill="#3aaab4"/>
<text x="293.0" y="462.9" textLength="12.5" lengthAdjust="spacing">1.2-1.4</text>
<rect x="280.1" y="466.1" width="10.4" height="5" fill="#62b8a4"/>
<text x="293.0" y="470.0" textLength="12.5" lengthAdjust="spacing">1.4-1.6</text>
<rect x="280.1" y="473.1" width="10.4" height="5" fill="#8ccb8e"/>
<text x="293.0" y="477.0" textLength="12.5" lengthAdjust="spacing">1.6-1.8</text>
<rect x="308.2" y="438.0" width="10.4" height="5" fill="#a4d284"/>
<text x="321.1" y="441.9" textLength="12.5" lengthAdjust="spacing">1.8-2.0</text>
<rect x="308.2" y="445.0" width="10.4" height="5" fill="#badb70"/>
<text x="321.1" y="448.9" textLength="12.5" lengthAdjust="spacing">2.0-2.5</text>
<rect x="308.2" y="452.0" width="10.4" height="5" fill="#d6e65c"/>
<text x="321.1" y="455.9" textLength="12.5" lengthAdjust="spacing">2.5-3.0</text>
<rect x="308.2" y="459.0" width="10.4" height="5" fill="#fcf945"/>
<text x="321.1" y="462.9" textLength="12.5" lengthAdjust="spacing">3.0-3.5</text>
<rect x="308.2" y="466.1" width="10.4" height="5" fill="#fdd535"/>
<text x="321.1" y="470.0" textLength="12.5" lengthAdjust="spacing">3.5-4.0</text>
<rect x="308.2" y="473.1" width="10.4" height="5" fill="#fdba34"/>
<text x="321.1" y="477.0" textLength="12.5" lengthAdjust="spacing">4.0-5.0</text>
<rect x="335.3" y="438.0" width="10.4" height="5" fill="#fea42a"/>
<text x="348.2" y="441.9" textLength="12.5" lengthAdjust="spacing">5.0-6.0</text>
<rect x="335.3" y="445.0" width="10.4" height="5" fill="#fe8c23"/>
<text x="348.2" y="448.9" textLength="12.5" lengthAdjust="spacing">6.0-8.0</text>
<rect x="335.3" y="452.0" width="10.4" height="5" fill="#fe731e"/>
<text x="348.2" y="455.9" textLength="14.2" lengthAdjust="spacing">8.0-10.0</text>
<rect x="335.3" y="459.0" width="10.4" height="5" fill="#fd5316"/>
<text x="348.2" y="462.9" textLength="16.0" lengthAdjust="spacing">10.0-15.0</text>
<rect x="335.3" y="466.1" width="10.4" height="5" fill="#fc3214"/>
<text x="348.2" y="470.0" textLength="16.0" lengthAdjust="spacing">15.0-20.0</text>
<rect x="335.3" y="473.1" width="10.4" height="5" fill="#fb0c0e"/>
<text x="348.2" y="477.0" textLength="8.9" lengthAdjust="spacing">&gt;20.0</text>
</g>
<path d="M391,462.2V467.3H457.3V462.2M407.6,463.6V467.3M424.1,463.6V467.3" fill="none" stroke="#111" stroke-width="0.9"/>
<g font-size="6" font-weight="bold" fill="#111" text-anchor="middle">
<text x="391" y="459.9">0</text>
<text x="408.5" y="459.9">1.25</text>
<text x="424.2" y="459.9">2.5</text>
<text x="455.8" y="459.9" text-anchor="start">5 km</text>
</g>
<text x="514" y="267.7" style="font-family:'Liberation Sans',sans-serif" font-weight="bold" font-size="7.6" text-anchor="middle" fill="#111">N</text>
<path d="M514,270.3L508.1,288.7L514,282.3Z" fill="#111" stroke="#111" stroke-width="0.5" stroke-linejoin="miter"/>
<path d="M514,270.3L519.6,288.6L514,282.3Z" fill="#fff" stroke="#111" stroke-width="0.6" stroke-linejoin="miter"/>
</svg></body></html>
